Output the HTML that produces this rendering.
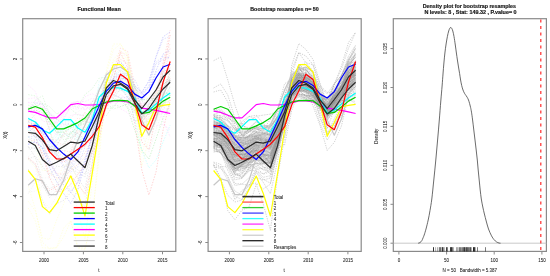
<!DOCTYPE html>
<html><head><meta charset="utf-8"><style>html,body{margin:0;padding:0;background:#fff;overflow:hidden}svg{display:block}</style></head>
<body><svg width="550" height="276" viewBox="0 0 550 276"><rect width="550" height="276" fill="#fff"/><g><polyline points="28.2,125.8 35.3,124.6 42.4,142.8 49.5,161.9 56.6,173.8 63.7,174.0 70.8,161.4 77.9,159.7 85.0,153.0 92.1,138.7 99.2,121.2 106.3,91.0 113.4,71.2 120.5,48.0 127.6,51.3 134.7,85.2 141.8,110.7 148.9,125.0 156.0,98.7 163.1,64.0 170.2,43.2" fill="none" stroke="#ff8080" stroke-width="0.6" stroke-dasharray="1.4,1.4" opacity="0.4"/><polyline points="28.2,132.0 35.3,126.9 42.4,131.4 49.5,139.2 56.6,140.1 63.7,135.3 70.8,126.0 77.9,118.0 85.0,121.2 92.1,123.2 99.2,113.4 106.3,96.3 113.4,97.2 120.5,80.4 127.6,84.4 134.7,91.2 141.8,105.3 148.9,113.7 156.0,108.2 163.1,84.0 170.2,79.3" fill="none" stroke="#ff8080" stroke-width="0.6" stroke-dasharray="1.4,1.4" opacity="0.4"/><polyline points="28.2,125.7 35.3,123.2 42.4,127.1 49.5,141.1 56.6,142.0 63.7,145.2 70.8,140.3 77.9,131.4 85.0,129.4 92.1,118.4 99.2,112.0 106.3,104.6 113.4,93.0 120.5,79.8 127.6,85.9 134.7,93.3 141.8,107.2 148.9,112.1 156.0,89.0 163.1,72.7 170.2,52.7" fill="none" stroke="#ff8080" stroke-width="0.6" stroke-dasharray="1.4,1.4" opacity="0.4"/><polyline points="28.2,107.9 35.3,108.0 42.4,107.9 49.5,129.9 56.6,151.2 63.7,150.7 70.8,151.9 77.9,127.6 85.0,111.9 92.1,120.9 99.2,106.7 106.3,72.3 113.4,69.0 120.5,59.3 127.6,63.6 134.7,101.1 141.8,106.0 148.9,99.6 156.0,94.6 163.1,66.3 170.2,48.2" fill="none" stroke="#ff8080" stroke-width="0.6" stroke-dasharray="1.4,1.4" opacity="0.4"/><polyline points="28.2,139.9 35.3,141.0 42.4,153.1 49.5,173.9 56.6,177.8 63.7,178.2 70.8,170.0 77.9,164.4 85.0,157.2 92.1,145.9 99.2,125.6 106.3,95.1 113.4,80.2 120.5,51.3 127.6,56.0 134.7,90.4 141.8,126.3 148.9,134.5 156.0,106.0 163.1,62.6 170.2,30.1" fill="none" stroke="#ff8080" stroke-width="0.6" stroke-dasharray="1.4,1.4" opacity="0.4"/><polyline points="28.2,121.6 35.3,124.7 42.4,128.0 49.5,137.5 56.6,151.6 63.7,157.3 70.8,152.1 77.9,142.5 85.0,139.7 92.1,133.6 99.2,126.6 106.3,102.1 113.4,86.3 120.5,77.3 127.6,79.6 134.7,101.7 141.8,127.3 148.9,124.6 156.0,118.3 163.1,95.7 170.2,70.0" fill="none" stroke="#ff8080" stroke-width="0.6" stroke-dasharray="1.4,1.4" opacity="0.4"/><polyline points="28.2,122.1 35.3,114.2 42.4,109.3 49.5,129.9 56.6,155.3 63.7,145.4 70.8,133.3 77.9,125.9 85.0,124.0 92.1,101.8 99.2,97.5 106.3,81.5 113.4,84.8 120.5,81.5 127.6,89.3 134.7,103.6 141.8,124.3 148.9,119.0 156.0,117.8 163.1,104.1 170.2,95.2" fill="none" stroke="#80e080" stroke-width="0.6" stroke-dasharray="1.4,1.4" opacity="0.4"/><polyline points="28.2,105.1 35.3,107.9 42.4,108.1 49.5,116.6 56.6,132.6 63.7,132.0 70.8,134.8 77.9,125.3 85.0,122.8 92.1,106.1 99.2,97.0 106.3,89.2 113.4,88.3 120.5,87.3 127.6,86.1 134.7,86.3 141.8,100.5 148.9,106.9 156.0,109.6 163.1,104.5 170.2,95.0" fill="none" stroke="#80e080" stroke-width="0.6" stroke-dasharray="1.4,1.4" opacity="0.4"/><polyline points="28.2,108.9 35.3,106.1 42.4,103.6 49.5,115.7 56.6,128.6 63.7,139.9 70.8,137.5 77.9,128.7 85.0,118.6 92.1,127.7 99.2,113.6 106.3,115.9 113.4,105.0 120.5,106.5 127.6,104.1 134.7,111.1 141.8,116.7 148.9,107.6 156.0,100.8 163.1,97.0 170.2,86.8" fill="none" stroke="#80e080" stroke-width="0.6" stroke-dasharray="1.4,1.4" opacity="0.4"/><polyline points="28.2,109.5 35.3,100.3 42.4,95.8 49.5,114.0 56.6,119.7 63.7,110.4 70.8,105.1 77.9,107.1 85.0,94.4 92.1,89.0 99.2,78.1 106.3,77.4 113.4,86.7 120.5,80.1 127.6,71.0 134.7,88.2 141.8,100.2 148.9,98.5 156.0,98.8 163.1,82.5 170.2,76.7" fill="none" stroke="#80e080" stroke-width="0.6" stroke-dasharray="1.4,1.4" opacity="0.4"/><polyline points="28.2,94.6 35.3,95.9 42.4,103.3 49.5,106.6 56.6,113.9 63.7,110.7 70.8,108.9 77.9,115.1 85.0,115.0 92.1,114.8 99.2,111.7 106.3,103.0 113.4,109.0 120.5,106.7 127.6,103.9 134.7,103.2 141.8,99.4 148.9,100.3 156.0,98.7 163.1,93.7 170.2,92.7" fill="none" stroke="#80e080" stroke-width="0.6" stroke-dasharray="1.4,1.4" opacity="0.4"/><polyline points="28.2,109.5 35.3,104.2 42.4,110.0 49.5,123.4 56.6,132.7 63.7,136.9 70.8,133.0 77.9,127.4 85.0,117.4 92.1,108.7 99.2,109.8 106.3,108.9 113.4,107.3 120.5,98.5 127.6,102.3 134.7,113.7 141.8,113.6 148.9,110.6 156.0,95.7 163.1,83.0 170.2,82.2" fill="none" stroke="#80e080" stroke-width="0.6" stroke-dasharray="1.4,1.4" opacity="0.4"/><polyline points="28.2,109.5 35.3,102.6 42.4,104.0 49.5,112.4 56.6,119.0 63.7,124.0 70.8,124.4 77.9,125.4 85.0,116.8 92.1,111.0 99.2,102.9 106.3,92.4 113.4,94.4 120.5,97.9 127.6,97.5 134.7,107.4 141.8,115.3 148.9,108.8 156.0,100.4 163.1,91.6 170.2,94.4" fill="none" stroke="#8080ff" stroke-width="0.6" stroke-dasharray="1.4,1.4" opacity="0.4"/><polyline points="28.2,136.6 35.3,136.1 42.4,143.0 49.5,159.5 56.6,173.6 63.7,180.5 70.8,191.2 77.9,182.6 85.0,164.9 92.1,139.0 99.2,112.3 106.3,92.7 113.4,80.3 120.5,75.5 127.6,75.5 134.7,88.0 141.8,94.0 148.9,85.5 156.0,57.2 163.1,39.2 170.2,36.4" fill="none" stroke="#8080ff" stroke-width="0.6" stroke-dasharray="1.4,1.4" opacity="0.4"/><polyline points="28.2,137.3 35.3,139.6 42.4,141.2 49.5,146.3 56.6,155.1 63.7,159.3 70.8,164.4 77.9,151.4 85.0,137.0 92.1,114.8 99.2,105.3 106.3,87.5 113.4,78.3 120.5,73.7 127.6,73.5 134.7,79.6 141.8,93.7 148.9,87.3 156.0,77.5 163.1,71.6 170.2,68.5" fill="none" stroke="#8080ff" stroke-width="0.6" stroke-dasharray="1.4,1.4" opacity="0.4"/><polyline points="28.2,122.2 35.3,125.0 42.4,133.0 49.5,141.6 56.6,153.3 63.7,165.2 70.8,168.7 77.9,159.4 85.0,140.8 92.1,123.8 99.2,109.7 106.3,99.4 113.4,85.3 120.5,89.6 127.6,90.2 134.7,99.7 141.8,96.7 148.9,86.6 156.0,63.8 163.1,59.5 170.2,56.9" fill="none" stroke="#8080ff" stroke-width="0.6" stroke-dasharray="1.4,1.4" opacity="0.4"/><polyline points="28.2,127.9 35.3,135.6 42.4,141.1 49.5,148.4 56.6,157.9 63.7,160.7 70.8,167.0 77.9,155.2 85.0,137.7 92.1,117.3 99.2,102.2 106.3,85.8 113.4,78.3 120.5,70.1 127.6,75.4 134.7,85.6 141.8,92.2 148.9,81.1 156.0,62.2 163.1,56.6 170.2,58.0" fill="none" stroke="#8080ff" stroke-width="0.6" stroke-dasharray="1.4,1.4" opacity="0.4"/><polyline points="28.2,126.3 35.3,132.5 42.4,131.0 49.5,146.0 56.6,156.0 63.7,167.4 70.8,172.1 77.9,166.8 85.0,146.9 92.1,132.0 99.2,112.0 106.3,102.8 113.4,92.3 120.5,78.5 127.6,79.4 134.7,88.6 141.8,95.0 148.9,92.5 156.0,72.6 163.1,65.8 170.2,66.2" fill="none" stroke="#8080ff" stroke-width="0.6" stroke-dasharray="1.4,1.4" opacity="0.4"/><polyline points="28.2,130.0 35.3,137.2 42.4,149.6 49.5,142.4 56.6,136.5 63.7,125.7 70.8,126.3 77.9,139.9 85.0,141.3 92.1,122.6 99.2,100.9 106.3,92.9 113.4,91.0 120.5,85.5 127.6,86.0 134.7,97.4 141.8,113.9 148.9,111.1 156.0,103.1 163.1,96.3 170.2,90.6" fill="none" stroke="#80ffff" stroke-width="0.6" stroke-dasharray="1.4,1.4" opacity="0.4"/><polyline points="28.2,127.6 35.3,138.0 42.4,147.7 49.5,148.7 56.6,139.9 63.7,133.6 70.8,137.2 77.9,140.7 85.0,137.6 92.1,126.2 99.2,102.3 106.3,96.1 113.4,87.8 120.5,86.2 127.6,97.4 134.7,105.0 141.8,122.8 148.9,111.9 156.0,105.0 163.1,94.3 170.2,92.9" fill="none" stroke="#80ffff" stroke-width="0.6" stroke-dasharray="1.4,1.4" opacity="0.4"/><polyline points="28.2,130.4 35.3,133.5 42.4,145.1 49.5,145.3 56.6,140.3 63.7,127.3 70.8,127.3 77.9,136.3 85.0,139.6 92.1,121.9 99.2,89.1 106.3,78.6 113.4,76.1 120.5,74.6 127.6,80.6 134.7,90.9 141.8,111.5 148.9,103.0 156.0,95.3 163.1,87.3 170.2,78.6" fill="none" stroke="#80ffff" stroke-width="0.6" stroke-dasharray="1.4,1.4" opacity="0.4"/><polyline points="28.2,118.0 35.3,122.8 42.4,133.8 49.5,126.5 56.6,121.6 63.7,118.9 70.8,119.7 77.9,127.4 85.0,127.9 92.1,115.3 99.2,92.5 106.3,80.8 113.4,79.0 120.5,79.8 127.6,88.8 134.7,99.5 141.8,111.9 148.9,114.3 156.0,110.9 163.1,104.1 170.2,95.5" fill="none" stroke="#80ffff" stroke-width="0.6" stroke-dasharray="1.4,1.4" opacity="0.4"/><polyline points="28.2,136.3 35.3,148.4 42.4,159.8 49.5,160.2 56.6,141.5 63.7,128.1 70.8,121.1 77.9,136.9 85.0,144.4 92.1,120.8 99.2,81.2 106.3,73.3 113.4,71.2 120.5,75.7 127.6,83.3 134.7,102.8 141.8,128.6 148.9,121.8 156.0,105.5 163.1,99.6 170.2,87.1" fill="none" stroke="#80ffff" stroke-width="0.6" stroke-dasharray="1.4,1.4" opacity="0.4"/><polyline points="28.2,118.1 35.3,122.5 42.4,134.6 49.5,142.7 56.6,132.8 63.7,127.8 70.8,132.6 77.9,141.3 85.0,136.0 92.1,115.3 99.2,86.2 106.3,79.1 113.4,74.7 120.5,69.7 127.6,74.9 134.7,86.4 141.8,110.4 148.9,110.2 156.0,100.0 163.1,86.2 170.2,79.9" fill="none" stroke="#80ffff" stroke-width="0.6" stroke-dasharray="1.4,1.4" opacity="0.4"/><polyline points="28.2,102.8 35.3,101.9 42.4,109.9 49.5,115.2 56.6,116.6 63.7,111.2 70.8,106.1 77.9,107.6 85.0,109.0 92.1,107.3 99.2,104.9 106.3,105.7 113.4,101.7 120.5,100.6 127.6,99.8 134.7,99.0 141.8,102.7 148.9,104.3 156.0,101.2 163.1,106.6 170.2,113.6" fill="none" stroke="#ff90ff" stroke-width="0.6" stroke-dasharray="1.4,1.4" opacity="0.4"/><polyline points="28.2,101.9 35.3,108.1 42.4,120.9 49.5,122.9 56.6,120.7 63.7,112.8 70.8,103.3 77.9,101.3 85.0,110.7 92.1,101.1 99.2,99.6 106.3,103.3 113.4,100.4 120.5,94.5 127.6,99.6 134.7,100.1 141.8,119.3 148.9,117.7 156.0,126.1 163.1,124.5 170.2,129.8" fill="none" stroke="#ff90ff" stroke-width="0.6" stroke-dasharray="1.4,1.4" opacity="0.4"/><polyline points="28.2,107.9 35.3,111.7 42.4,106.5 49.5,113.2 56.6,124.2 63.7,114.2 70.8,102.8 77.9,101.3 85.0,105.7 92.1,111.0 99.2,109.0 106.3,105.2 113.4,88.6 120.5,80.3 127.6,91.6 134.7,97.4 141.8,104.3 148.9,102.4 156.0,96.0 163.1,120.7 170.2,137.0" fill="none" stroke="#ff90ff" stroke-width="0.6" stroke-dasharray="1.4,1.4" opacity="0.4"/><polyline points="28.2,85.1 35.3,91.5 42.4,111.5 49.5,124.7 56.6,122.7 63.7,119.8 70.8,105.7 77.9,101.3 85.0,101.6 92.1,98.3 99.2,100.7 106.3,91.5 113.4,70.2 120.5,78.5 127.6,88.7 134.7,93.0 141.8,105.7 148.9,105.2 156.0,105.1 163.1,106.9 170.2,111.0" fill="none" stroke="#ff90ff" stroke-width="0.6" stroke-dasharray="1.4,1.4" opacity="0.4"/><polyline points="28.2,98.8 35.3,97.8 42.4,104.7 49.5,118.8 56.6,129.1 63.7,124.7 70.8,115.4 77.9,114.1 85.0,116.7 92.1,118.4 99.2,106.7 106.3,97.1 113.4,91.1 120.5,86.0 127.6,97.8 134.7,100.6 141.8,105.4 148.9,109.1 156.0,105.3 163.1,109.4 170.2,116.6" fill="none" stroke="#ff90ff" stroke-width="0.6" stroke-dasharray="1.4,1.4" opacity="0.4"/><polyline points="28.2,109.8 35.3,118.8 42.4,133.8 49.5,127.4 56.6,135.0 63.7,117.0 70.8,107.5 77.9,109.5 85.0,96.8 92.1,93.6 99.2,97.3 106.3,101.2 113.4,101.3 120.5,108.7 127.6,112.7 134.7,122.3 141.8,116.3 148.9,111.7 156.0,114.2 163.1,113.5 170.2,108.2" fill="none" stroke="#ff90ff" stroke-width="0.6" stroke-dasharray="1.4,1.4" opacity="0.4"/><polyline points="28.2,171.3 35.3,177.7 42.4,205.2 49.5,212.8 56.6,202.4 63.7,185.7 70.8,178.0 77.9,196.3 85.0,210.7 92.1,177.0 99.2,132.1 106.3,89.8 113.4,73.0 120.5,66.6 127.6,74.4 134.7,104.0 141.8,131.0 148.9,119.0 156.0,103.7 163.1,104.4 170.2,108.4" fill="none" stroke="#ffff80" stroke-width="0.6" stroke-dasharray="1.4,1.4" opacity="0.4"/><polyline points="28.2,186.1 35.3,208.9 42.4,242.3 49.5,248.7 56.6,247.7 63.7,227.9 70.8,220.8 77.9,248.1 85.0,250.0 92.1,216.2 99.2,157.9 106.3,84.4 113.4,59.5 120.5,51.5 127.6,59.4 134.7,108.9 141.8,166.1 148.9,138.6 156.0,108.9 163.1,104.2 170.2,102.4" fill="none" stroke="#ffff80" stroke-width="0.6" stroke-dasharray="1.4,1.4" opacity="0.4"/><polyline points="28.2,159.5 35.3,167.2 42.4,199.9 49.5,208.2 56.6,196.0 63.7,181.8 70.8,173.4 77.9,189.4 85.0,214.6 92.1,172.5 99.2,130.1 106.3,82.5 113.4,61.4 120.5,56.7 127.6,60.2 134.7,89.0 141.8,118.8 148.9,107.4 156.0,92.2 163.1,93.0 170.2,95.7" fill="none" stroke="#ffff80" stroke-width="0.6" stroke-dasharray="1.4,1.4" opacity="0.4"/><polyline points="28.2,201.3 35.3,210.9 42.4,237.9 49.5,239.5 56.6,220.0 63.7,203.8 70.8,183.8 77.9,210.4 85.0,239.0 92.1,184.3 99.2,130.5 106.3,70.5 113.4,44.0 120.5,44.0 127.6,56.2 134.7,95.9 141.8,136.8 148.9,114.8 156.0,99.2 163.1,104.9 170.2,99.9" fill="none" stroke="#ffff80" stroke-width="0.6" stroke-dasharray="1.4,1.4" opacity="0.4"/><polyline points="28.2,136.4 35.3,144.2 42.4,170.5 49.5,170.3 56.6,180.2 63.7,165.1 70.8,164.9 77.9,179.7 85.0,196.6 92.1,169.3 99.2,141.5 106.3,104.6 113.4,89.2 120.5,87.9 127.6,86.4 134.7,102.4 141.8,121.8 148.9,112.3 156.0,106.3 163.1,101.3 170.2,97.6" fill="none" stroke="#ffff80" stroke-width="0.6" stroke-dasharray="1.4,1.4" opacity="0.4"/><polyline points="28.2,208.0 35.3,220.9 42.4,247.8 49.5,248.1 56.6,247.7 63.7,236.7 70.8,221.1 77.9,247.2 85.0,248.3 92.1,222.5 99.2,146.5 106.3,73.9 113.4,49.9 120.5,44.0 127.6,54.5 134.7,100.9 141.8,153.5 148.9,130.3 156.0,102.7 163.1,102.9 170.2,99.3" fill="none" stroke="#ffff80" stroke-width="0.6" stroke-dasharray="1.4,1.4" opacity="0.4"/><polyline points="28.2,149.0 35.3,148.0 42.4,149.5 49.5,158.7 56.6,160.9 63.7,148.8 70.8,141.1 77.9,128.7 85.0,119.7 92.1,110.0 99.2,103.2 106.3,91.4 113.4,94.4 120.5,90.4 127.6,93.4 134.7,111.4 141.8,116.2 148.9,128.4 156.0,123.3 163.1,102.8 170.2,92.7" fill="none" stroke="#d8d8d8" stroke-width="0.6" stroke-dasharray="1.4,1.4" opacity="0.4"/><polyline points="28.2,180.4 35.3,174.3 42.4,177.7 49.5,178.0 56.6,181.0 63.7,170.6 70.8,148.4 77.9,144.0 85.0,131.4 92.1,122.0 99.2,112.6 106.3,101.0 113.4,101.0 120.5,99.4 127.6,91.8 134.7,101.1 141.8,111.1 148.9,132.0 156.0,121.5 163.1,103.4 170.2,89.2" fill="none" stroke="#d8d8d8" stroke-width="0.6" stroke-dasharray="1.4,1.4" opacity="0.4"/><polyline points="28.2,193.8 35.3,181.9 42.4,180.7 49.5,194.3 56.6,194.9 63.7,174.8 70.8,158.2 77.9,145.1 85.0,134.8 92.1,118.5 99.2,106.3 106.3,91.4 113.4,87.2 120.5,78.8 127.6,82.5 134.7,111.7 141.8,133.1 148.9,151.7 156.0,129.9 163.1,108.5 170.2,85.9" fill="none" stroke="#d8d8d8" stroke-width="0.6" stroke-dasharray="1.4,1.4" opacity="0.4"/><polyline points="28.2,156.7 35.3,150.3 42.4,151.9 49.5,160.7 56.6,165.6 63.7,153.7 70.8,138.1 77.9,129.5 85.0,122.4 92.1,111.9 99.2,98.7 106.3,86.3 113.4,80.3 120.5,78.8 127.6,78.3 134.7,91.9 141.8,107.0 148.9,122.9 156.0,108.7 163.1,90.8 170.2,86.1" fill="none" stroke="#d8d8d8" stroke-width="0.6" stroke-dasharray="1.4,1.4" opacity="0.4"/><polyline points="28.2,142.0 35.3,139.9 42.4,138.4 49.5,139.1 56.6,145.5 63.7,135.8 70.8,117.5 77.9,111.7 85.0,106.7 92.1,102.5 99.2,88.1 106.3,87.1 113.4,91.8 120.5,90.8 127.6,89.2 134.7,96.4 141.8,110.8 148.9,129.6 156.0,115.9 163.1,103.9 170.2,94.8" fill="none" stroke="#d8d8d8" stroke-width="0.6" stroke-dasharray="1.4,1.4" opacity="0.4"/><polyline points="28.2,192.0 35.3,191.0 42.4,186.2 49.5,193.9 56.6,187.1 63.7,174.9 70.8,153.4 77.9,137.6 85.0,117.7 92.1,109.1 99.2,89.8 106.3,80.7 113.4,69.0 120.5,67.5 127.6,59.9 134.7,87.9 141.8,106.1 148.9,116.6 156.0,104.4 163.1,82.3 170.2,77.3" fill="none" stroke="#d8d8d8" stroke-width="0.6" stroke-dasharray="1.4,1.4" opacity="0.4"/><polyline points="28.2,159.0 35.3,156.2 42.4,166.2 49.5,175.5 56.6,166.4 63.7,166.8 70.8,162.4 77.9,170.2 85.0,173.9 92.1,153.8 99.2,118.5 106.3,104.3 113.4,87.9 120.5,90.2 127.6,90.0 134.7,110.8 141.8,118.9 148.9,113.4 156.0,97.1 163.1,84.9 170.2,78.6" fill="none" stroke="#a0a0a0" stroke-width="0.6" stroke-dasharray="1.4,1.4" opacity="0.4"/><polyline points="28.2,169.0 35.3,179.6 42.4,200.7 49.5,214.3 56.6,203.6 63.7,200.4 70.8,192.6 77.9,200.5 85.0,206.4 92.1,164.8 99.2,112.5 106.3,79.8 113.4,67.8 120.5,60.7 127.6,73.1 134.7,96.8 141.8,118.7 148.9,111.1 156.0,90.9 163.1,73.7 170.2,64.0" fill="none" stroke="#a0a0a0" stroke-width="0.6" stroke-dasharray="1.4,1.4" opacity="0.4"/><polyline points="28.2,123.7 35.3,131.6 42.4,140.3 49.5,147.1 56.6,145.8 63.7,132.8 70.8,138.1 77.9,133.0 85.0,140.2 92.1,130.1 99.2,109.1 106.3,96.3 113.4,98.4 120.5,88.5 127.6,97.4 134.7,107.3 141.8,111.7 148.9,114.5 156.0,110.2 163.1,103.1 170.2,101.4" fill="none" stroke="#a0a0a0" stroke-width="0.6" stroke-dasharray="1.4,1.4" opacity="0.4"/><polyline points="28.2,147.3 35.3,148.3 42.4,153.7 49.5,153.4 56.6,148.9 63.7,143.5 70.8,131.2 77.9,133.3 85.0,131.0 92.1,124.1 99.2,112.7 106.3,100.8 113.4,95.2 120.5,97.7 127.6,106.3 134.7,121.0 141.8,118.8 148.9,104.7 156.0,97.5 163.1,85.1 170.2,76.6" fill="none" stroke="#a0a0a0" stroke-width="0.6" stroke-dasharray="1.4,1.4" opacity="0.4"/><polyline points="28.2,158.7 35.3,165.1 42.4,184.8 49.5,197.6 56.6,190.1 63.7,182.2 70.8,166.1 77.9,178.0 85.0,188.8 92.1,152.4 99.2,108.7 106.3,78.8 113.4,65.3 120.5,71.8 127.6,77.4 134.7,106.7 141.8,118.4 148.9,104.3 156.0,89.6 163.1,74.8 170.2,67.8" fill="none" stroke="#a0a0a0" stroke-width="0.6" stroke-dasharray="1.4,1.4" opacity="0.4"/><polyline points="28.2,146.3 35.3,157.2 42.4,179.8 49.5,188.8 56.6,184.7 63.7,174.3 70.8,167.7 77.9,172.9 85.0,176.9 92.1,149.0 99.2,112.6 106.3,89.3 113.4,84.8 120.5,87.7 127.6,91.2 134.7,104.3 141.8,117.9 148.9,110.0 156.0,101.4 163.1,89.7 170.2,72.7" fill="none" stroke="#a0a0a0" stroke-width="0.6" stroke-dasharray="1.4,1.4" opacity="0.4"/><polyline points="28.2,144.6 35.3,141.9 42.4,148.2 49.5,167.3 56.6,181.7 63.7,193.5 70.8,203.3 77.9,189.6 85.0,162.8 92.1,134.9 99.2,107.0 106.3,80.7 113.4,65.9 120.5,62.5 127.6,69.9 134.7,85.5 141.8,92.6 148.9,81.0 156.0,56.6 163.1,36.8 170.2,31.9" fill="none" stroke="#8080ff" stroke-width="0.6" stroke-dasharray="1.4,1.4" opacity="0.6"/><polyline points="28.2,132.4 35.3,136.3 42.4,154.7 49.5,177.7 56.6,191.5 63.7,191.2 70.8,183.9 77.9,174.3 85.0,164.9 92.1,152.3 99.2,138.9 106.3,103.7 113.4,78.5 120.5,52.7 127.6,67.5 134.7,104.9 141.8,141.8 148.9,149.7 156.0,116.5 163.1,70.4 170.2,35.0" fill="none" stroke="#ff8080" stroke-width="0.6" stroke-dasharray="1.4,1.4" opacity="0.6"/><polyline points="28.2,120.0 35.3,122.0 42.4,135.0 49.5,150.0 56.6,160.0 63.7,162.0 70.8,158.0 77.9,150.0 85.0,146.0 92.1,138.0 99.2,128.0 106.3,108.0 113.4,92.0 120.5,80.0 127.6,86.0 134.7,123.0 141.8,170.0 148.9,195.0 156.0,172.0 163.1,130.0 170.2,100.0" fill="none" stroke="#ff8080" stroke-width="0.6" stroke-dasharray="1.4,1.4" opacity="0.6"/><polyline points="28.2,112.0 35.3,110.0 42.4,113.0 49.5,122.0 56.6,132.0 63.7,132.0 70.8,128.0 77.9,125.0 85.0,120.0 92.1,112.0 99.2,106.0 106.3,102.0 113.4,100.0 120.5,100.0 127.6,108.0 134.7,130.0 141.8,150.0 148.9,159.0 156.0,139.0 163.1,118.0 170.2,104.0" fill="none" stroke="#80e080" stroke-width="0.6" stroke-dasharray="1.4,1.4" opacity="0.6"/><polyline points="28.2,118.0 35.3,122.0 42.4,131.0 49.5,134.0 56.6,128.0 63.7,121.0 70.8,121.0 77.9,130.0 85.0,134.0 92.1,121.0 99.2,98.0 106.3,90.0 113.4,87.0 120.5,88.0 127.6,95.0 134.7,120.0 141.8,150.0 148.9,168.0 156.0,160.0 163.1,142.0 170.2,125.0" fill="none" stroke="#80ffff" stroke-width="0.6" stroke-dasharray="1.4,1.4" opacity="0.6"/><polyline points="28.2,144.0 35.3,141.7 42.4,147.0 49.5,162.8 56.6,174.8 63.7,184.8 70.8,192.8 77.9,181.5 85.0,159.1 92.1,135.8 99.2,112.6 106.3,90.7 113.4,78.4 120.5,75.5 127.6,81.7 134.7,94.8 141.8,100.6 148.9,91.0 156.0,70.6 163.1,54.1 170.2,50.0" fill="none" stroke="#8080ff" stroke-width="0.6" stroke-dasharray="1.4,1.4" opacity="0.6"/><polyline points="28.2,157.9 35.3,163.6 42.4,182.6 49.5,190.7 56.6,186.4 63.7,181.2 70.8,175.4 77.9,184.7 85.0,193.7 92.1,164.4 99.2,123.9 106.3,95.0 113.4,83.3 120.5,81.1 127.6,87.7 134.7,106.4 141.8,121.2 148.9,113.8 156.0,99.6 163.1,87.5 170.2,78.4" fill="none" stroke="#ff8080" stroke-width="0.6" stroke-dasharray="1.4,1.4" opacity="0.6"/><polyline points="28.2,185.3 35.3,178.7 42.4,180.9 49.5,194.6 56.6,194.6 63.7,180.0 70.8,158.0 77.9,140.0 85.0,125.0 92.1,110.0 99.2,90.0 106.3,75.0 113.4,69.0 120.5,67.0 127.6,72.0 134.7,95.0 141.8,120.0 148.9,135.2 156.0,119.0 163.1,95.0 170.2,80.0" fill="none" stroke="#c6c6c6" stroke-width="1.2" stroke-linejoin="round"/><polyline points="28.2,170.5 35.3,179.3 42.4,206.6 49.5,212.6 56.6,203.4 63.7,189.5 70.8,176.0 77.9,193.5 85.0,216.0 92.1,174.0 99.2,130.0 106.3,83.0 113.4,64.6 120.5,64.6 127.6,72.0 134.7,103.0 141.8,136.3 148.9,122.4 156.0,107.0 163.1,105.4 170.2,104.3" fill="none" stroke="#ffff00" stroke-width="1.2" stroke-linejoin="round"/><polyline points="28.2,111.1 35.3,112.4 42.4,115.2 49.5,117.9 56.6,117.9 63.7,111.4 70.8,104.6 77.9,103.5 85.0,105.0 92.1,105.0 99.2,104.3 106.3,103.0 113.4,101.0 120.5,101.0 127.6,102.0 134.7,105.0 141.8,108.1 148.9,109.2 156.0,110.3 163.1,111.9 170.2,113.5" fill="none" stroke="#ff00ff" stroke-width="1.2" stroke-linejoin="round"/><polyline points="28.2,118.5 35.3,122.0 42.4,130.0 49.5,133.3 56.6,126.7 63.7,119.6 70.8,119.6 77.9,128.0 85.0,132.2 92.1,120.0 99.2,97.0 106.3,90.3 113.4,87.5 120.5,88.1 127.6,91.4 134.7,98.0 141.8,113.0 148.9,110.3 156.0,104.0 163.1,98.0 170.2,93.0" fill="none" stroke="#00ffff" stroke-width="1.2" stroke-linejoin="round"/><polyline points="28.2,109.2 35.3,106.5 42.4,109.2 49.5,119.0 56.6,128.9 63.7,128.9 70.8,125.9 77.9,122.6 85.0,118.0 92.1,109.0 99.2,105.5 106.3,102.0 113.4,100.6 120.5,100.3 127.6,100.8 134.7,105.9 141.8,113.5 148.9,112.4 156.0,107.0 163.1,101.1 170.2,97.3" fill="none" stroke="#00cd00" stroke-width="1.2" stroke-linejoin="round"/><polyline points="28.2,126.9 35.3,125.4 42.4,128.9 49.5,139.5 56.6,147.5 63.7,154.1 70.8,159.5 77.9,151.9 85.0,137.0 92.1,121.5 99.2,106.0 106.3,91.4 113.4,83.2 120.5,81.3 127.6,85.4 134.7,94.1 141.8,98.0 148.9,91.6 156.0,78.0 163.1,67.0 170.2,64.3" fill="none" stroke="#0000ff" stroke-width="1.2" stroke-linejoin="round"/><polyline points="28.2,125.4 35.3,127.2 42.4,137.6 49.5,151.9 56.6,159.0 63.7,159.0 70.8,154.1 77.9,149.2 85.0,144.2 92.1,136.5 99.2,126.7 106.3,105.0 113.4,91.0 120.5,74.2 127.6,79.6 134.7,102.0 141.8,124.8 148.9,129.7 156.0,112.0 163.1,82.0 170.2,61.5" fill="none" stroke="#ff0000" stroke-width="1.2" stroke-linejoin="round"/><polyline points="28.2,141.2 35.3,145.4 42.4,159.5 49.5,165.5 56.6,162.3 63.7,158.4 70.8,154.1 77.9,161.0 85.0,167.7 92.1,146.0 99.2,116.0 106.3,94.6 113.4,85.9 120.5,84.3 127.6,89.2 134.7,103.0 141.8,114.0 148.9,108.5 156.0,98.0 163.1,89.0 170.2,82.3" fill="none" stroke="#2a2a2a" stroke-width="1.2" stroke-linejoin="round"/><polyline points="28.2,132.5 35.3,133.3 42.4,139.8 49.5,149.7 56.6,150.8 63.7,146.5 70.8,142.1 77.9,143.1 85.0,141.0 92.1,127.0 99.2,112.0 106.3,88.0 113.4,80.5 120.5,83.2 127.6,88.1 134.7,100.0 141.8,108.5 148.9,99.5 156.0,90.0 163.1,77.0 170.2,70.3" fill="none" stroke="#2a2a2a" stroke-width="1.2" stroke-linejoin="round"/></g><rect x="22.7" y="18.7" width="153.1" height="232.7" fill="none" stroke="#8a8a8a" stroke-width="1.2"/><text x="99.1" y="11.3" text-anchor="middle" style="font-family:'Liberation Sans',Arial,sans-serif;font-size:5.5px;font-weight:bold" fill="#1a1a1a" stroke="#1a1a1a" stroke-width="0.18">Functional Mean</text><line x1="44.0" y1="251.4" x2="44.0" y2="254.3" stroke="#8a8a8a" stroke-width="1"/><text x="44.0" y="261.6" text-anchor="middle" style="font-family:'Liberation Sans',Arial,sans-serif;font-size:4.5px" fill="#1a1a1a" stroke="#1a1a1a" stroke-width="0.05">2000</text><line x1="83.4" y1="251.4" x2="83.4" y2="254.3" stroke="#8a8a8a" stroke-width="1"/><text x="83.4" y="261.6" text-anchor="middle" style="font-family:'Liberation Sans',Arial,sans-serif;font-size:4.5px" fill="#1a1a1a" stroke="#1a1a1a" stroke-width="0.05">2005</text><line x1="122.8" y1="251.4" x2="122.8" y2="254.3" stroke="#8a8a8a" stroke-width="1"/><text x="122.8" y="261.6" text-anchor="middle" style="font-family:'Liberation Sans',Arial,sans-serif;font-size:4.5px" fill="#1a1a1a" stroke="#1a1a1a" stroke-width="0.05">2010</text><line x1="162.5" y1="251.4" x2="162.5" y2="254.3" stroke="#8a8a8a" stroke-width="1"/><text x="162.5" y="261.6" text-anchor="middle" style="font-family:'Liberation Sans',Arial,sans-serif;font-size:4.5px" fill="#1a1a1a" stroke="#1a1a1a" stroke-width="0.05">2015</text><text x="98.8" y="272.2" text-anchor="middle" style="font-family:'Liberation Sans',Arial,sans-serif;font-size:4.5px" fill="#1a1a1a" stroke="#1a1a1a" stroke-width="0.05">t</text><line x1="19.9" y1="58.9" x2="22.7" y2="58.9" stroke="#8a8a8a" stroke-width="1"/><text transform="translate(16.7,58.9) rotate(-90)" text-anchor="middle" style="font-family:'Liberation Sans',Arial,sans-serif;font-size:4.5px" fill="#1a1a1a" stroke="#1a1a1a" stroke-width="0.05">2</text><line x1="19.9" y1="104.8" x2="22.7" y2="104.8" stroke="#8a8a8a" stroke-width="1"/><text transform="translate(16.7,104.8) rotate(-90)" text-anchor="middle" style="font-family:'Liberation Sans',Arial,sans-serif;font-size:4.5px" fill="#1a1a1a" stroke="#1a1a1a" stroke-width="0.05">0</text><line x1="19.9" y1="150.7" x2="22.7" y2="150.7" stroke="#8a8a8a" stroke-width="1"/><text transform="translate(16.7,150.7) rotate(-90)" text-anchor="middle" style="font-family:'Liberation Sans',Arial,sans-serif;font-size:4.5px" fill="#1a1a1a" stroke="#1a1a1a" stroke-width="0.05">-2</text><line x1="19.9" y1="196.6" x2="22.7" y2="196.6" stroke="#8a8a8a" stroke-width="1"/><text transform="translate(16.7,196.6) rotate(-90)" text-anchor="middle" style="font-family:'Liberation Sans',Arial,sans-serif;font-size:4.5px" fill="#1a1a1a" stroke="#1a1a1a" stroke-width="0.05">-4</text><line x1="19.9" y1="242.5" x2="22.7" y2="242.5" stroke="#8a8a8a" stroke-width="1"/><text transform="translate(16.7,242.5) rotate(-90)" text-anchor="middle" style="font-family:'Liberation Sans',Arial,sans-serif;font-size:4.5px" fill="#1a1a1a" stroke="#1a1a1a" stroke-width="0.05">-6</text><text transform="translate(6.5,135.2) rotate(-90)" text-anchor="middle" style="font-family:'Liberation Sans',Arial,sans-serif;font-size:4.5px" fill="#1a1a1a" stroke="#1a1a1a" stroke-width="0.05">X(t)</text><polygon points="213.6,120.9 220.7,122.3 227.8,128.9 234.9,136.3 242.0,137.6 249.1,135.6 256.2,131.7 263.3,133.1 270.4,133.2 277.5,121.5 284.6,107.2 291.7,81.4 298.8,72.7 305.9,76.0 313.0,82.4 320.1,96.6 327.2,104.7 334.3,94.0 341.4,84.5 348.5,68.0 355.6,60.9 355.6,83.7 348.5,89.4 341.4,99.0 334.3,107.7 327.2,115.5 320.1,105.2 313.0,96.3 305.9,92.8 298.8,90.7 291.7,96.4 284.6,119.0 277.5,141.7 270.4,164.1 263.3,162.5 256.2,159.3 249.1,163.4 242.0,167.2 234.9,169.0 227.8,159.0 220.7,146.4 213.6,145.1" fill="#c4c4c4" opacity="0.55" stroke="none"/><polyline points="213.6,134.1 220.7,135.5 227.8,141.1 234.9,150.5 242.0,151.8 249.1,147.3 256.2,141.7 263.3,140.7 270.4,137.4 277.5,126.1 284.6,112.0 291.7,89.7 298.8,81.6 305.9,79.4 313.0,85.0 320.1,99.8 327.2,110.3 334.3,107.0 341.4,98.4 348.5,82.1 355.6,74.4" fill="none" stroke="#8c8c8c" stroke-width="0.7" stroke-dasharray="2,0.7" opacity="0.42"/><polyline points="213.6,116.0 220.7,117.7 227.8,121.1 234.9,129.0 242.0,131.5 249.1,134.5 256.2,135.3 263.3,136.4 270.4,133.0 277.5,125.1 284.6,114.2 291.7,100.0 298.8,94.5 305.9,94.6 313.0,98.0 320.1,106.8 327.2,109.6 334.3,104.5 341.4,97.0 348.5,88.8 355.6,83.1" fill="none" stroke="#8c8c8c" stroke-width="0.7" stroke-dasharray="2,0.7" opacity="0.42"/><polyline points="213.6,128.2 220.7,125.7 227.8,126.1 234.9,130.0 242.0,134.0 249.1,131.2 256.2,127.7 263.3,125.7 270.4,125.8 277.5,117.8 284.6,106.2 291.7,94.8 298.8,95.5 305.9,98.8 313.0,102.4 320.1,104.2 327.2,103.2 334.3,101.3 341.4,95.5 348.5,90.2 355.6,89.8" fill="none" stroke="#8c8c8c" stroke-width="0.7" stroke-dasharray="2,0.7" opacity="0.42"/><polyline points="213.6,143.6 220.7,149.2 227.8,158.5 234.9,170.6 242.0,164.5 249.1,154.6 256.2,150.2 263.3,161.2 270.4,164.2 277.5,145.6 284.6,117.6 291.7,83.1 298.8,75.3 305.9,78.9 313.0,83.2 320.1,98.5 327.2,107.7 334.3,96.0 341.4,86.2 348.5,79.0 355.6,75.8" fill="none" stroke="#8c8c8c" stroke-width="0.7" stroke-dasharray="2,0.7" opacity="0.42"/><polyline points="213.6,126.6 220.7,131.6 227.8,134.9 234.9,140.1 242.0,140.3 249.1,135.9 256.2,129.6 263.3,130.3 270.4,126.9 277.5,117.0 284.6,102.8 291.7,92.6 298.8,86.6 305.9,85.8 313.0,90.4 320.1,96.8 327.2,108.0 334.3,107.8 341.4,101.5 348.5,92.0 355.6,86.3" fill="none" stroke="#8c8c8c" stroke-width="0.7" stroke-dasharray="2,0.7" opacity="0.42"/><polyline points="213.6,135.0 220.7,136.2 227.8,142.8 234.9,155.6 242.0,153.9 249.1,148.3 256.2,143.5 263.3,145.2 270.4,148.4 277.5,130.9 284.6,111.1 291.7,89.3 298.8,81.8 305.9,86.4 313.0,91.7 320.1,102.3 327.2,116.6 334.3,110.4 341.4,97.9 348.5,90.5 355.6,80.9" fill="none" stroke="#8c8c8c" stroke-width="0.7" stroke-dasharray="2,0.7" opacity="0.42"/><polyline points="213.6,133.3 220.7,135.2 227.8,145.9 234.9,156.8 242.0,162.0 249.1,157.3 256.2,155.9 263.3,159.7 270.4,155.9 277.5,137.7 284.6,118.0 291.7,97.2 298.8,90.8 305.9,86.2 313.0,88.9 320.1,100.0 327.2,107.4 334.3,99.1 341.4,85.8 348.5,72.9 355.6,72.7" fill="none" stroke="#8c8c8c" stroke-width="0.7" stroke-dasharray="2,0.7" opacity="0.42"/><polyline points="213.6,126.6 220.7,128.8 227.8,139.6 234.9,149.8 242.0,154.8 249.1,153.9 256.2,148.5 263.3,147.7 270.4,148.3 277.5,130.6 284.6,117.1 291.7,89.5 298.8,79.8 305.9,80.3 313.0,88.3 320.1,98.6 327.2,110.1 334.3,101.1 341.4,88.7 348.5,74.2 355.6,64.7" fill="none" stroke="#8c8c8c" stroke-width="0.7" stroke-dasharray="2,0.7" opacity="0.42"/><polyline points="213.6,127.0 220.7,132.4 227.8,139.5 234.9,152.0 242.0,155.3 249.1,153.5 256.2,149.9 263.3,151.3 270.4,142.9 277.5,126.9 284.6,111.4 291.7,90.4 298.8,81.5 305.9,79.0 313.0,85.7 320.1,100.6 327.2,110.1 334.3,102.5 341.4,85.1 348.5,65.9 355.6,56.5" fill="none" stroke="#8c8c8c" stroke-width="0.7" stroke-dasharray="2,0.7" opacity="0.42"/><polyline points="213.6,109.7 220.7,112.4 227.8,117.3 234.9,123.3 242.0,125.9 249.1,127.9 256.2,128.1 263.3,133.0 270.4,133.5 277.5,126.1 284.6,115.7 291.7,103.7 298.8,97.4 305.9,99.8 313.0,101.3 320.1,105.3 327.2,105.5 334.3,97.5 341.4,91.5 348.5,84.3 355.6,80.6" fill="none" stroke="#8c8c8c" stroke-width="0.7" stroke-dasharray="2,0.7" opacity="0.42"/><polyline points="213.6,134.7 220.7,135.7 227.8,145.0 234.9,155.5 242.0,158.0 249.1,156.4 256.2,150.0 263.3,144.2 270.4,139.1 277.5,126.4 284.6,112.5 291.7,90.3 298.8,79.4 305.9,77.4 313.0,82.3 320.1,95.9 327.2,104.8 334.3,102.6 341.4,94.8 348.5,81.8 355.6,75.6" fill="none" stroke="#8c8c8c" stroke-width="0.7" stroke-dasharray="2,0.7" opacity="0.42"/><polyline points="213.6,110.4 220.7,110.7 227.8,114.8 234.9,126.8 242.0,135.3 249.1,138.9 256.2,135.3 263.3,133.9 270.4,130.2 277.5,122.0 284.6,110.1 291.7,95.6 298.8,90.2 305.9,96.4 313.0,100.4 320.1,106.7 327.2,106.9 334.3,96.7 341.4,87.7 348.5,82.5 355.6,80.8" fill="none" stroke="#8c8c8c" stroke-width="0.7" stroke-dasharray="2,0.7" opacity="0.42"/><polyline points="213.6,114.4 220.7,116.2 227.8,125.7 234.9,128.5 242.0,133.2 249.1,129.7 256.2,128.5 263.3,131.7 270.4,136.0 277.5,124.8 284.6,111.1 291.7,100.4 298.8,96.7 305.9,97.1 313.0,100.1 320.1,104.1 327.2,108.3 334.3,106.5 341.4,101.0 348.5,100.0 355.6,101.5" fill="none" stroke="#8c8c8c" stroke-width="0.7" stroke-dasharray="2,0.7" opacity="0.42"/><polyline points="213.6,139.0 220.7,136.5 227.8,138.6 234.9,149.6 242.0,144.7 249.1,144.6 256.2,139.8 263.3,132.2 270.4,130.2 277.5,115.9 284.6,98.3 291.7,81.5 298.8,72.6 305.9,82.1 313.0,88.5 320.1,97.8 327.2,98.7 334.3,92.7 341.4,85.4 348.5,78.6 355.6,71.9" fill="none" stroke="#8c8c8c" stroke-width="0.7" stroke-dasharray="2,0.7" opacity="0.42"/><polyline points="213.6,138.8 220.7,137.9 227.8,147.8 234.9,159.5 242.0,157.5 249.1,156.2 256.2,152.4 263.3,149.5 270.4,144.6 277.5,127.6 284.6,105.8 291.7,87.7 298.8,75.2 305.9,75.4 313.0,79.3 320.1,94.8 327.2,106.8 334.3,101.0 341.4,90.7 348.5,79.1 355.6,72.0" fill="none" stroke="#8c8c8c" stroke-width="0.7" stroke-dasharray="2,0.7" opacity="0.42"/><polyline points="213.6,140.9 220.7,142.3 227.8,152.2 234.9,155.5 242.0,154.2 249.1,152.5 256.2,147.8 263.3,153.1 270.4,158.5 277.5,136.3 284.6,110.5 291.7,81.4 298.8,69.3 305.9,68.9 313.0,74.2 320.1,88.7 327.2,104.1 334.3,95.4 341.4,87.0 348.5,73.3 355.6,63.1" fill="none" stroke="#8c8c8c" stroke-width="0.7" stroke-dasharray="2,0.7" opacity="0.42"/><polyline points="213.6,124.9 220.7,123.0 227.8,128.8 234.9,136.0 242.0,138.0 249.1,136.5 256.2,132.3 263.3,133.4 270.4,134.5 277.5,119.9 284.6,112.1 291.7,96.4 298.8,89.9 305.9,91.4 313.0,96.6 320.1,105.9 327.2,111.7 334.3,103.0 341.4,92.6 348.5,82.9 355.6,78.0" fill="none" stroke="#8c8c8c" stroke-width="0.7" stroke-dasharray="2,0.7" opacity="0.42"/><polyline points="213.6,145.6 220.7,147.4 227.8,158.7 234.9,171.9 242.0,177.5 249.1,169.1 256.2,163.3 263.3,164.7 270.4,160.0 277.5,138.4 284.6,118.8 291.7,79.1 298.8,72.7 305.9,75.4 313.0,82.3 320.1,102.9 327.2,118.0 334.3,104.1 341.4,90.1 348.5,66.5 355.6,54.7" fill="none" stroke="#8c8c8c" stroke-width="0.7" stroke-dasharray="2,0.7" opacity="0.42"/><polyline points="213.6,132.9 220.7,133.9 227.8,138.9 234.9,145.5 242.0,145.9 249.1,143.0 256.2,136.7 263.3,134.6 270.4,135.2 277.5,125.4 284.6,118.5 291.7,96.4 298.8,89.2 305.9,85.7 313.0,91.8 320.1,101.6 327.2,109.7 334.3,104.8 341.4,99.5 348.5,85.9 355.6,78.6" fill="none" stroke="#8c8c8c" stroke-width="0.7" stroke-dasharray="2,0.7" opacity="0.42"/><polyline points="213.6,133.7 220.7,134.3 227.8,145.2 234.9,157.0 242.0,153.4 249.1,147.1 256.2,139.5 263.3,141.6 270.4,147.4 277.5,133.7 284.6,122.8 291.7,97.2 298.8,88.1 305.9,89.5 313.0,95.8 320.1,105.7 327.2,114.3 334.3,104.3 341.4,97.3 348.5,84.3 355.6,76.5" fill="none" stroke="#8c8c8c" stroke-width="0.7" stroke-dasharray="2,0.7" opacity="0.42"/><polyline points="213.6,134.2 220.7,141.7 227.8,155.1 234.9,160.1 242.0,159.3 249.1,152.8 256.2,145.9 263.3,147.3 270.4,148.6 277.5,131.1 284.6,119.0 291.7,99.2 298.8,90.4 305.9,89.8 313.0,91.6 320.1,103.5 327.2,115.8 334.3,110.8 341.4,103.2 348.5,93.8 355.6,87.0" fill="none" stroke="#8c8c8c" stroke-width="0.7" stroke-dasharray="2,0.7" opacity="0.42"/><polyline points="213.6,150.3 220.7,152.6 227.8,161.9 234.9,165.0 242.0,163.2 249.1,154.0 256.2,143.5 263.3,153.8 270.4,164.1 277.5,142.5 284.6,119.8 291.7,93.4 298.8,86.5 305.9,91.7 313.0,94.0 320.1,106.0 327.2,120.2 334.3,109.4 341.4,101.7 348.5,95.2 355.6,91.0" fill="none" stroke="#8c8c8c" stroke-width="0.7" stroke-dasharray="2,0.7" opacity="0.42"/><polyline points="213.6,123.3 220.7,126.3 227.8,131.6 234.9,140.2 242.0,145.7 249.1,149.8 256.2,145.5 263.3,146.1 270.4,145.8 277.5,130.2 284.6,112.9 291.7,84.9 298.8,74.8 305.9,76.3 313.0,83.2 320.1,97.2 327.2,105.4 334.3,93.7 341.4,86.1 348.5,76.1 355.6,69.9" fill="none" stroke="#8c8c8c" stroke-width="0.7" stroke-dasharray="2,0.7" opacity="0.42"/><polyline points="213.6,119.6 220.7,121.5 227.8,127.8 234.9,135.4 242.0,135.6 249.1,129.0 256.2,121.8 263.3,125.3 270.4,126.9 277.5,118.5 284.6,101.3 291.7,93.8 298.8,93.4 305.9,98.4 313.0,99.4 320.1,107.0 327.2,110.0 334.3,107.6 341.4,99.6 348.5,94.3 355.6,86.4" fill="none" stroke="#8c8c8c" stroke-width="0.7" stroke-dasharray="2,0.7" opacity="0.42"/><polyline points="213.6,126.9 220.7,126.6 227.8,142.4 234.9,154.0 242.0,158.9 249.1,154.7 256.2,146.7 263.3,144.5 270.4,141.9 277.5,127.6 284.6,109.9 291.7,90.3 298.8,82.4 305.9,81.5 313.0,86.8 320.1,99.7 327.2,109.7 334.3,109.5 341.4,96.8 348.5,79.4 355.6,69.4" fill="none" stroke="#8c8c8c" stroke-width="0.7" stroke-dasharray="2,0.7" opacity="0.42"/><polyline points="213.6,122.3 220.7,124.6 227.8,135.7 234.9,144.7 242.0,144.1 249.1,151.6 256.2,142.1 263.3,143.2 270.4,143.4 277.5,125.3 284.6,111.3 291.7,93.9 298.8,88.4 305.9,91.6 313.0,95.9 320.1,104.5 327.2,113.4 334.3,101.7 341.4,93.5 348.5,76.3 355.6,73.7" fill="none" stroke="#8c8c8c" stroke-width="0.7" stroke-dasharray="2,0.7" opacity="0.42"/><polyline points="213.6,139.9 220.7,143.1 227.8,148.6 234.9,154.8 242.0,158.5 249.1,153.7 256.2,152.2 263.3,148.7 270.4,146.4 277.5,130.8 284.6,115.5 291.7,93.3 298.8,88.7 305.9,84.0 313.0,91.3 320.1,103.7 327.2,115.8 334.3,108.2 341.4,97.9 348.5,76.2 355.6,69.0" fill="none" stroke="#8c8c8c" stroke-width="0.7" stroke-dasharray="2,0.7" opacity="0.42"/><polyline points="213.6,134.2 220.7,139.2 227.8,150.7 234.9,160.9 242.0,160.2 249.1,152.9 256.2,146.9 263.3,153.9 270.4,163.7 277.5,140.6 284.6,114.9 291.7,83.8 298.8,75.3 305.9,86.9 313.0,88.9 320.1,99.1 327.2,109.9 334.3,94.6 341.4,85.9 348.5,79.7 355.6,74.9" fill="none" stroke="#8c8c8c" stroke-width="0.7" stroke-dasharray="2,0.7" opacity="0.42"/><polyline points="213.6,142.3 220.7,145.8 227.8,152.3 234.9,161.8 242.0,158.0 249.1,150.3 256.2,149.8 263.3,150.8 270.4,142.2 277.5,124.8 284.6,103.8 291.7,76.9 298.8,69.0 305.9,73.5 313.0,82.6 320.1,96.0 327.2,104.9 334.3,95.7 341.4,85.6 348.5,71.4 355.6,64.0" fill="none" stroke="#8c8c8c" stroke-width="0.7" stroke-dasharray="2,0.7" opacity="0.42"/><polyline points="213.6,115.1 220.7,115.7 227.8,118.2 234.9,121.8 242.0,124.2 249.1,120.9 256.2,116.3 263.3,115.1 270.4,114.1 277.5,111.4 284.6,108.3 291.7,102.9 298.8,99.9 305.9,97.1 313.0,99.0 320.1,106.9 327.2,112.4 334.3,112.9 341.4,108.4 348.5,99.9 355.6,96.2" fill="none" stroke="#8c8c8c" stroke-width="0.7" stroke-dasharray="2,0.7" opacity="0.42"/><polyline points="213.6,130.4 220.7,134.8 227.8,147.3 234.9,162.1 242.0,160.6 249.1,162.9 256.2,160.8 263.3,155.2 270.4,155.3 277.5,141.1 284.6,127.9 291.7,93.4 298.8,79.0 305.9,72.7 313.0,84.5 320.1,101.5 327.2,108.8 334.3,91.8 341.4,80.1 348.5,63.8 355.6,57.6" fill="none" stroke="#8c8c8c" stroke-width="0.7" stroke-dasharray="2,0.7" opacity="0.42"/><polyline points="213.6,125.3 220.7,126.4 227.8,130.6 234.9,136.4 242.0,137.4 249.1,137.6 256.2,138.6 263.3,142.6 270.4,138.0 277.5,125.7 284.6,109.4 291.7,89.4 298.8,84.4 305.9,88.6 313.0,91.9 320.1,100.9 327.2,104.6 334.3,97.0 341.4,89.4 348.5,76.5 355.6,70.8" fill="none" stroke="#8c8c8c" stroke-width="0.7" stroke-dasharray="2,0.7" opacity="0.42"/><polyline points="213.6,147.7 220.7,151.4 227.8,170.4 234.9,185.5 242.0,184.1 249.1,177.7 256.2,171.8 263.3,179.3 270.4,183.2 277.5,153.9 284.6,123.6 291.7,81.3 298.8,67.5 305.9,70.1 313.0,76.5 320.1,95.9 327.2,110.0 334.3,93.6 341.4,75.8 348.5,56.0 355.6,45.2" fill="none" stroke="#8c8c8c" stroke-width="0.7" stroke-dasharray="2,0.7" opacity="0.42"/><polyline points="213.6,144.3 220.7,146.2 227.8,158.8 234.9,171.6 242.0,164.8 249.1,158.1 256.2,150.6 263.3,163.0 270.4,167.2 277.5,142.9 284.6,114.8 291.7,79.1 298.8,67.3 305.9,79.2 313.0,87.2 320.1,103.4 327.2,112.6 334.3,96.7 341.4,77.8 348.5,65.0 355.6,54.2" fill="none" stroke="#8c8c8c" stroke-width="0.7" stroke-dasharray="2,0.7" opacity="0.42"/><polyline points="213.6,146.7 220.7,152.3 227.8,162.1 234.9,175.3 242.0,174.5 249.1,163.5 256.2,153.9 263.3,161.9 270.4,166.4 277.5,147.5 284.6,123.8 291.7,88.1 298.8,78.0 305.9,80.7 313.0,85.7 320.1,101.2 327.2,110.3 334.3,96.6 341.4,85.2 348.5,73.3 355.6,66.0" fill="none" stroke="#8c8c8c" stroke-width="0.7" stroke-dasharray="2,0.7" opacity="0.42"/><polyline points="213.6,146.1 220.7,145.4 227.8,153.4 234.9,165.0 242.0,164.5 249.1,160.0 256.2,153.0 263.3,156.9 270.4,161.4 277.5,142.7 284.6,120.8 291.7,88.7 298.8,77.6 305.9,82.4 313.0,89.0 320.1,104.7 327.2,118.7 334.3,106.5 341.4,96.2 348.5,83.8 355.6,75.1" fill="none" stroke="#8c8c8c" stroke-width="0.7" stroke-dasharray="2,0.7" opacity="0.42"/><polyline points="213.6,131.8 220.7,136.0 227.8,143.8 234.9,150.9 242.0,156.5 249.1,150.8 256.2,144.3 263.3,146.7 270.4,137.5 277.5,126.9 284.6,109.3 291.7,82.1 298.8,77.3 305.9,77.6 313.0,79.6 320.1,96.2 327.2,96.9 334.3,92.5 341.4,81.4 348.5,61.0 355.6,54.6" fill="none" stroke="#8c8c8c" stroke-width="0.7" stroke-dasharray="2,0.7" opacity="0.42"/><polyline points="213.6,137.1 220.7,141.6 227.8,148.0 234.9,161.4 242.0,160.1 249.1,147.7 256.2,137.7 263.3,140.0 270.4,141.5 277.5,123.7 284.6,97.2 291.7,71.2 298.8,75.0 305.9,84.5 313.0,88.2 320.1,93.7 327.2,101.6 334.3,90.2 341.4,80.2 348.5,71.1 355.6,66.2" fill="none" stroke="#8c8c8c" stroke-width="0.7" stroke-dasharray="2,0.7" opacity="0.42"/><polyline points="213.6,131.9 220.7,133.4 227.8,145.5 234.9,154.9 242.0,154.4 249.1,152.0 256.2,150.5 263.3,157.9 270.4,159.2 277.5,139.0 284.6,114.9 291.7,91.6 298.8,84.9 305.9,85.0 313.0,84.8 320.1,93.8 327.2,102.0 334.3,97.0 341.4,86.9 348.5,76.1 355.6,68.2" fill="none" stroke="#8c8c8c" stroke-width="0.7" stroke-dasharray="2,0.7" opacity="0.42"/><polyline points="213.6,132.5 220.7,134.5 227.8,141.2 234.9,148.0 242.0,145.9 249.1,139.9 256.2,131.7 263.3,130.7 270.4,131.2 277.5,119.2 284.6,104.7 291.7,90.8 298.8,84.1 305.9,85.2 313.0,91.0 320.1,103.3 327.2,113.4 334.3,112.6 341.4,105.4 348.5,97.2 355.6,92.3" fill="none" stroke="#8c8c8c" stroke-width="0.7" stroke-dasharray="2,0.7" opacity="0.42"/><polyline points="213.6,152.2 220.7,150.5 227.8,159.2 234.9,170.4 242.0,171.0 249.1,165.0 256.2,163.8 263.3,162.9 270.4,163.7 277.5,142.9 284.6,113.8 291.7,85.5 298.8,74.0 305.9,80.3 313.0,84.9 320.1,99.4 327.2,113.4 334.3,104.5 341.4,89.6 348.5,76.5 355.6,66.9" fill="none" stroke="#8c8c8c" stroke-width="0.7" stroke-dasharray="2,0.7" opacity="0.42"/><polyline points="213.6,120.4 220.7,118.9 227.8,126.5 234.9,136.2 242.0,135.0 249.1,136.1 256.2,136.5 263.3,142.5 270.4,147.3 277.5,131.5 284.6,113.0 291.7,95.7 298.8,90.1 305.9,96.4 313.0,95.3 320.1,102.0 327.2,105.9 334.3,95.3 341.4,86.9 348.5,82.8 355.6,77.2" fill="none" stroke="#8c8c8c" stroke-width="0.7" stroke-dasharray="2,0.7" opacity="0.42"/><polyline points="213.6,148.8 220.7,152.2 227.8,166.0 234.9,177.4 242.0,178.2 249.1,171.2 256.2,166.5 263.3,169.4 270.4,168.7 277.5,141.7 284.6,115.9 291.7,81.5 298.8,70.3 305.9,70.1 313.0,76.2 320.1,97.3 327.2,111.2 334.3,100.0 341.4,84.4 348.5,72.9 355.6,67.5" fill="none" stroke="#8c8c8c" stroke-width="0.7" stroke-dasharray="2,0.7" opacity="0.42"/><polyline points="213.6,151.0 220.7,152.7 227.8,165.0 234.9,172.6 242.0,164.6 249.1,162.2 256.2,159.9 263.3,163.6 270.4,169.9 277.5,147.4 284.6,123.5 291.7,87.1 298.8,74.5 305.9,75.9 313.0,85.2 320.1,97.8 327.2,117.1 334.3,104.2 341.4,90.8 348.5,74.6 355.6,60.4" fill="none" stroke="#8c8c8c" stroke-width="0.7" stroke-dasharray="2,0.7" opacity="0.42"/><polyline points="213.6,115.9 220.7,119.7 227.8,129.0 234.9,137.0 242.0,140.4 249.1,140.8 256.2,138.1 263.3,140.5 270.4,141.5 277.5,127.5 284.6,110.0 291.7,91.4 298.8,85.3 305.9,89.7 313.0,95.4 320.1,105.1 327.2,111.5 334.3,101.9 341.4,93.3 348.5,86.7 355.6,81.8" fill="none" stroke="#8c8c8c" stroke-width="0.7" stroke-dasharray="2,0.7" opacity="0.42"/><polyline points="213.6,149.0 220.7,149.4 227.8,160.9 234.9,173.9 242.0,177.5 249.1,170.4 256.2,170.6 263.3,177.3 270.4,175.7 277.5,149.9 284.6,122.1 291.7,86.5 298.8,76.1 305.9,77.9 313.0,80.0 320.1,95.8 327.2,108.1 334.3,91.3 341.4,76.2 348.5,60.2 355.6,48.9" fill="none" stroke="#8c8c8c" stroke-width="0.7" stroke-dasharray="2,0.7" opacity="0.42"/><polyline points="213.6,147.9 220.7,153.5 227.8,160.9 234.9,166.8 242.0,165.2 249.1,156.4 256.2,150.2 263.3,151.1 270.4,152.7 277.5,137.4 284.6,119.3 291.7,94.3 298.8,87.0 305.9,89.0 313.0,92.8 320.1,104.8 327.2,112.9 334.3,103.9 341.4,96.8 348.5,89.7 355.6,84.0" fill="none" stroke="#8c8c8c" stroke-width="0.7" stroke-dasharray="2,0.7" opacity="0.42"/><polyline points="213.6,138.8 220.7,139.3 227.8,143.0 234.9,147.7 242.0,146.5 249.1,142.3 256.2,135.2 263.3,134.9 270.4,134.7 277.5,123.9 284.6,110.3 291.7,94.5 298.8,90.6 305.9,89.8 313.0,93.2 320.1,99.5 327.2,109.3 334.3,107.5 341.4,101.3 348.5,92.2 355.6,86.8" fill="none" stroke="#8c8c8c" stroke-width="0.7" stroke-dasharray="2,0.7" opacity="0.42"/><polyline points="213.6,124.4 220.7,122.4 227.8,129.0 234.9,140.2 242.0,143.1 249.1,141.9 256.2,143.1 263.3,144.8 270.4,148.0 277.5,132.8 284.6,114.8 291.7,91.6 298.8,87.7 305.9,91.9 313.0,95.1 320.1,101.4 327.2,110.6 334.3,101.6 341.4,92.1 348.5,75.4 355.6,67.6" fill="none" stroke="#8c8c8c" stroke-width="0.7" stroke-dasharray="2,0.7" opacity="0.42"/><polyline points="213.6,121.3 220.7,123.5 227.8,131.6 234.9,134.2 242.0,132.1 249.1,130.0 256.2,126.0 263.3,133.1 270.4,134.9 277.5,119.7 284.6,104.0 291.7,90.1 298.8,86.1 305.9,90.2 313.0,91.5 320.1,100.5 327.2,108.6 334.3,103.1 341.4,100.9 348.5,98.3 355.6,94.2" fill="none" stroke="#8c8c8c" stroke-width="0.7" stroke-dasharray="2,0.7" opacity="0.42"/><polyline points="213.6,115.9 220.7,121.8 227.8,128.2 234.9,137.2 242.0,142.5 249.1,135.5 256.2,128.1 263.3,128.8 270.4,124.3 277.5,113.5 284.6,100.0 291.7,82.7 298.8,79.5 305.9,83.4 313.0,88.1 320.1,99.6 327.2,104.0 334.3,100.0 341.4,94.0 348.5,86.5 355.6,79.4" fill="none" stroke="#8c8c8c" stroke-width="0.7" stroke-dasharray="2,0.7" opacity="0.42"/><polyline points="213.6,122.2 220.7,122.3 227.8,129.6 234.9,137.8 242.0,137.5 249.1,131.7 256.2,127.0 263.3,128.1 270.4,126.4 277.5,115.9 284.6,104.3 291.7,88.8 298.8,82.6 305.9,84.9 313.0,89.4 320.1,98.2 327.2,105.1 334.3,98.8 341.4,93.2 348.5,82.6 355.6,78.1" fill="none" stroke="#8c8c8c" stroke-width="0.7" stroke-dasharray="2,0.7" opacity="0.42"/><polyline points="213.6,135.2 220.7,134.6 227.8,141.6 234.9,149.3 242.0,150.6 249.1,143.4 256.2,136.6 263.3,140.6 270.4,142.9 277.5,127.9 284.6,114.0 291.7,96.6 298.8,92.3 305.9,95.0 313.0,95.7 320.1,107.9 327.2,116.0 334.3,107.2 341.4,95.8 348.5,86.7 355.6,81.5" fill="none" stroke="#8c8c8c" stroke-width="0.7" stroke-dasharray="2,0.7" opacity="0.42"/><polyline points="213.6,125.4 220.7,124.3 227.8,132.3 234.9,147.5 242.0,154.5 249.1,156.2 256.2,153.9 263.3,151.1 270.4,149.3 277.5,132.3 284.6,117.2 291.7,93.9 298.8,86.3 305.9,89.1 313.0,94.0 320.1,105.3 327.2,109.0 334.3,98.2 341.4,85.5 348.5,67.8 355.6,61.8" fill="none" stroke="#8c8c8c" stroke-width="0.7" stroke-dasharray="2,0.7" opacity="0.42"/><polyline points="213.6,143.1 220.7,141.1 227.8,148.5 234.9,159.5 242.0,160.8 249.1,160.3 256.2,157.0 263.3,156.8 270.4,153.8 277.5,132.8 284.6,114.7 291.7,80.9 298.8,73.1 305.9,78.9 313.0,85.9 320.1,97.6 327.2,99.8 334.3,84.1 341.4,75.4 348.5,58.7 355.6,48.2" fill="none" stroke="#8c8c8c" stroke-width="0.7" stroke-dasharray="2,0.7" opacity="0.42"/><polyline points="213.6,133.3 220.7,133.3 227.8,143.1 234.9,152.1 242.0,154.1 249.1,152.8 256.2,150.6 263.3,154.2 270.4,157.2 277.5,138.5 284.6,114.9 291.7,87.8 298.8,78.3 305.9,82.0 313.0,90.7 320.1,103.6 327.2,112.7 334.3,103.4 341.4,91.4 348.5,80.9 355.6,74.4" fill="none" stroke="#8c8c8c" stroke-width="0.7" stroke-dasharray="2,0.7" opacity="0.42"/><polyline points="213.6,145.1 220.7,145.1 227.8,159.0 234.9,164.1 242.0,162.0 249.1,154.0 256.2,145.0 263.3,150.7 270.4,157.9 277.5,137.0 284.6,112.9 291.7,85.0 298.8,74.1 305.9,79.9 313.0,85.7 320.1,102.4 327.2,111.9 334.3,99.9 341.4,87.9 348.5,78.8 355.6,71.1" fill="none" stroke="#8c8c8c" stroke-width="0.7" stroke-dasharray="2,0.7" opacity="0.42"/><polyline points="213.6,142.7 220.7,144.4 227.8,154.5 234.9,169.1 242.0,162.9 249.1,157.1 256.2,153.9 263.3,158.5 270.4,162.7 277.5,143.6 284.6,117.1 291.7,86.8 298.8,77.6 305.9,77.7 313.0,82.0 320.1,96.9 327.2,110.1 334.3,100.7 341.4,89.4 348.5,73.3 355.6,64.6" fill="none" stroke="#8c8c8c" stroke-width="0.7" stroke-dasharray="2,0.7" opacity="0.42"/><polyline points="213.6,139.2 220.7,142.4 227.8,156.3 234.9,165.3 242.0,167.3 249.1,165.4 256.2,163.7 263.3,170.0 270.4,171.3 277.5,147.6 284.6,120.9 291.7,86.7 298.8,74.6 305.9,77.6 313.0,81.3 320.1,96.5 327.2,109.7 334.3,96.6 341.4,86.8 348.5,74.6 355.6,65.7" fill="none" stroke="#8c8c8c" stroke-width="0.7" stroke-dasharray="2,0.7" opacity="0.42"/><polyline points="213.6,117.6 220.7,119.8 227.8,126.3 234.9,135.3 242.0,138.0 249.1,140.1 256.2,142.0 263.3,145.9 270.4,138.1 277.5,124.5 284.6,109.8 291.7,94.1 298.8,86.2 305.9,87.9 313.0,93.0 320.1,99.1 327.2,99.3 334.3,90.7 341.4,82.3 348.5,75.8 355.6,75.5" fill="none" stroke="#8c8c8c" stroke-width="0.7" stroke-dasharray="2,0.7" opacity="0.42"/><polyline points="213.6,114.3 220.7,111.9 227.8,119.9 234.9,129.3 242.0,134.9 249.1,130.3 256.2,131.4 263.3,133.1 270.4,131.9 277.5,121.3 284.6,110.0 291.7,94.6 298.8,93.8 305.9,95.3 313.0,97.7 320.1,103.6 327.2,105.5 334.3,99.3 341.4,93.4 348.5,82.3 355.6,78.4" fill="none" stroke="#8c8c8c" stroke-width="0.7" stroke-dasharray="2,0.7" opacity="0.42"/><polyline points="213.6,141.8 220.7,144.1 227.8,155.3 234.9,168.6 242.0,169.1 249.1,164.8 256.2,159.5 263.3,162.7 270.4,161.6 277.5,138.1 284.6,110.0 291.7,77.4 298.8,67.4 305.9,77.1 313.0,83.6 320.1,98.1 327.2,107.3 334.3,92.7 341.4,78.1 348.5,64.6 355.6,57.5" fill="none" stroke="#8c8c8c" stroke-width="0.7" stroke-dasharray="2,0.7" opacity="0.42"/><polyline points="213.6,115.4 220.7,118.7 227.8,125.8 234.9,135.4 242.0,143.2 249.1,143.7 256.2,145.3 263.3,146.8 270.4,145.0 277.5,130.2 284.6,117.5 291.7,98.5 298.8,91.6 305.9,91.1 313.0,99.6 320.1,108.7 327.2,116.7 334.3,108.1 341.4,100.3 348.5,88.3 355.6,80.3" fill="none" stroke="#8c8c8c" stroke-width="0.7" stroke-dasharray="2,0.7" opacity="0.42"/><polyline points="213.6,120.7 220.7,124.9 227.8,133.2 234.9,143.4 242.0,150.6 249.1,144.5 256.2,137.8 263.3,138.5 270.4,136.6 277.5,122.4 284.6,107.9 291.7,84.1 298.8,80.5 305.9,87.1 313.0,88.1 320.1,97.2 327.2,102.9 334.3,94.4 341.4,88.9 348.5,80.7 355.6,72.0" fill="none" stroke="#8c8c8c" stroke-width="0.7" stroke-dasharray="2,0.7" opacity="0.42"/><polyline points="213.6,132.5 220.7,136.8 227.8,145.7 234.9,155.0 242.0,157.3 249.1,155.8 256.2,150.7 263.3,150.5 270.4,146.4 277.5,126.2 284.6,110.5 291.7,81.4 298.8,73.1 305.9,82.2 313.0,90.4 320.1,101.3 327.2,105.0 334.3,88.1 341.4,77.1 348.5,66.0 355.6,60.3" fill="none" stroke="#8c8c8c" stroke-width="0.7" stroke-dasharray="2,0.7" opacity="0.42"/><polyline points="213.6,137.5 220.7,142.8 227.8,159.2 234.9,168.1 242.0,166.3 249.1,158.9 256.2,158.8 263.3,166.7 270.4,174.4 277.5,150.2 284.6,124.4 291.7,94.7 298.8,80.4 305.9,82.8 313.0,90.4 320.1,103.6 327.2,112.2 334.3,100.1 341.4,89.9 348.5,84.9 355.6,84.2" fill="none" stroke="#8c8c8c" stroke-width="0.7" stroke-dasharray="2,0.7" opacity="0.42"/><polyline points="213.6,140.0 220.7,144.1 227.8,157.8 234.9,174.2 242.0,176.2 249.1,169.3 256.2,165.9 263.3,163.1 270.4,155.3 277.5,136.2 284.6,110.2 291.7,80.8 298.8,71.3 305.9,67.3 313.0,81.9 320.1,101.8 327.2,116.2 334.3,106.7 341.4,88.1 348.5,67.6 355.6,56.5" fill="none" stroke="#8c8c8c" stroke-width="0.7" stroke-dasharray="2,0.7" opacity="0.42"/><polyline points="213.6,135.4 220.7,138.3 227.8,145.8 234.9,153.8 242.0,154.8 249.1,153.5 256.2,147.6 263.3,147.0 270.4,144.4 277.5,128.6 284.6,113.1 291.7,88.5 298.8,81.2 305.9,85.6 313.0,92.6 320.1,105.1 327.2,109.3 334.3,98.7 341.4,89.5 348.5,76.5 355.6,70.8" fill="none" stroke="#8c8c8c" stroke-width="0.7" stroke-dasharray="2,0.7" opacity="0.42"/><polyline points="213.6,137.9 220.7,140.9 227.8,147.9 234.9,157.8 242.0,158.8 249.1,153.0 256.2,149.5 263.3,154.1 270.4,156.1 277.5,134.7 284.6,111.3 291.7,86.0 298.8,77.2 305.9,77.8 313.0,83.2 320.1,95.8 327.2,109.3 334.3,101.4 341.4,94.2 348.5,83.1 355.6,77.8" fill="none" stroke="#8c8c8c" stroke-width="0.7" stroke-dasharray="2,0.7" opacity="0.42"/><polyline points="213.6,138.9 220.7,138.4 227.8,144.0 234.9,149.0 242.0,151.0 249.1,143.1 256.2,136.3 263.3,139.9 270.4,142.6 277.5,131.8 284.6,117.9 291.7,90.3 298.8,85.7 305.9,81.5 313.0,89.5 320.1,99.1 327.2,110.6 334.3,110.4 341.4,102.1 348.5,81.7 355.6,73.6" fill="none" stroke="#8c8c8c" stroke-width="0.7" stroke-dasharray="2,0.7" opacity="0.42"/><polyline points="213.6,146.6 220.7,147.6 227.8,163.5 234.9,179.9 242.0,178.3 249.1,167.8 256.2,155.0 263.3,162.2 270.4,165.4 277.5,140.1 284.6,117.3 291.7,75.7 298.8,67.4 305.9,78.0 313.0,83.0 320.1,102.6 327.2,115.4 334.3,100.4 341.4,89.8 348.5,71.2 355.6,62.6" fill="none" stroke="#8c8c8c" stroke-width="0.7" stroke-dasharray="2,0.7" opacity="0.42"/><polyline points="213.6,128.0 220.7,126.5 227.8,133.5 234.9,141.0 242.0,143.3 249.1,143.5 256.2,139.5 263.3,139.2 270.4,139.6 277.5,128.2 284.6,112.6 291.7,98.9 298.8,91.7 305.9,90.1 313.0,92.1 320.1,101.5 327.2,109.2 334.3,102.7 341.4,93.1 348.5,80.2 355.6,73.2" fill="none" stroke="#8c8c8c" stroke-width="0.7" stroke-dasharray="2,0.7" opacity="0.42"/><polyline points="213.6,141.7 220.7,146.4 227.8,158.4 234.9,168.0 242.0,173.2 249.1,168.4 256.2,160.9 263.3,160.1 270.4,157.8 277.5,139.4 284.6,120.7 291.7,92.7 298.8,83.9 305.9,85.3 313.0,94.5 320.1,108.7 327.2,120.3 334.3,111.8 341.4,97.8 348.5,82.8 355.6,70.6" fill="none" stroke="#8c8c8c" stroke-width="0.7" stroke-dasharray="2,0.7" opacity="0.42"/><polyline points="213.6,125.3 220.7,126.8 227.8,132.7 234.9,140.3 242.0,136.4 249.1,132.0 256.2,131.7 263.3,139.1 270.4,141.1 277.5,128.9 284.6,112.6 291.7,97.3 298.8,94.0 305.9,95.6 313.0,96.9 320.1,104.9 327.2,111.9 334.3,102.4 341.4,95.2 348.5,85.7 355.6,80.5" fill="none" stroke="#8c8c8c" stroke-width="0.7" stroke-dasharray="2,0.7" opacity="0.42"/><polyline points="213.6,117.7 220.7,117.4 227.8,120.0 234.9,127.3 242.0,130.5 249.1,131.9 256.2,126.5 263.3,126.6 270.4,125.7 277.5,116.3 284.6,112.3 291.7,99.2 298.8,95.8 305.9,98.6 313.0,100.7 320.1,103.8 327.2,104.3 334.3,97.0 341.4,90.4 348.5,86.1 355.6,82.9" fill="none" stroke="#8c8c8c" stroke-width="0.7" stroke-dasharray="2,0.7" opacity="0.42"/><polyline points="213.6,145.0 220.7,146.4 227.8,158.4 234.9,164.2 242.0,159.0 249.1,150.6 256.2,144.6 263.3,155.9 270.4,163.5 277.5,139.4 284.6,110.1 291.7,78.5 298.8,70.7 305.9,79.4 313.0,86.3 320.1,99.1 327.2,108.3 334.3,92.5 341.4,84.7 348.5,77.7 355.6,73.6" fill="none" stroke="#8c8c8c" stroke-width="0.7" stroke-dasharray="2,0.7" opacity="0.42"/><polyline points="213.6,127.3 220.7,130.6 227.8,134.0 234.9,139.3 242.0,139.9 249.1,135.4 256.2,129.7 263.3,128.8 270.4,127.4 277.5,117.8 284.6,106.8 291.7,92.6 298.8,90.1 305.9,93.2 313.0,97.1 320.1,104.4 327.2,110.6 334.3,105.3 341.4,96.4 348.5,86.0 355.6,79.0" fill="none" stroke="#8c8c8c" stroke-width="0.7" stroke-dasharray="2,0.7" opacity="0.42"/><polyline points="213.6,129.2 220.7,132.8 227.8,138.7 234.9,143.3 242.0,142.1 249.1,141.0 256.2,138.9 263.3,141.1 270.4,139.5 277.5,128.2 284.6,112.6 291.7,101.0 298.8,95.7 305.9,95.5 313.0,100.4 320.1,110.1 327.2,116.0 334.3,111.2 341.4,99.3 348.5,90.0 355.6,85.1" fill="none" stroke="#8c8c8c" stroke-width="0.7" stroke-dasharray="2,0.7" opacity="0.42"/><polyline points="213.6,138.8 220.7,143.6 227.8,161.6 234.9,174.2 242.0,173.0 249.1,162.0 256.2,153.3 263.3,161.3 270.4,167.5 277.5,138.4 284.6,114.5 291.7,78.8 298.8,67.2 305.9,69.8 313.0,76.9 320.1,97.4 327.2,115.5 334.3,100.4 341.4,88.1 348.5,70.8 355.6,62.8" fill="none" stroke="#8c8c8c" stroke-width="0.7" stroke-dasharray="2,0.7" opacity="0.42"/><polyline points="213.6,146.4 220.7,146.1 227.8,157.2 234.9,168.2 242.0,166.8 249.1,167.8 256.2,162.6 263.3,163.5 270.4,162.1 277.5,140.0 284.6,118.2 291.7,86.0 298.8,75.7 305.9,82.7 313.0,91.2 320.1,107.5 327.2,114.5 334.3,105.8 341.4,95.3 348.5,81.3 355.6,75.5" fill="none" stroke="#8c8c8c" stroke-width="0.7" stroke-dasharray="2,0.7" opacity="0.42"/><polyline points="213.6,135.8 220.7,137.3 227.8,148.4 234.9,161.0 242.0,161.1 249.1,156.8 256.2,155.0 263.3,162.2 270.4,163.1 277.5,138.2 284.6,111.7 291.7,80.7 298.8,72.4 305.9,73.6 313.0,78.5 320.1,91.6 327.2,100.2 334.3,84.1 341.4,75.6 348.5,63.1 355.6,54.5" fill="none" stroke="#8c8c8c" stroke-width="0.7" stroke-dasharray="2,0.7" opacity="0.42"/><polyline points="213.6,134.2 220.7,139.1 227.8,147.7 234.9,156.5 242.0,156.0 249.1,150.2 256.2,140.5 263.3,145.1 270.4,147.6 277.5,133.1 284.6,110.5 291.7,90.3 298.8,82.9 305.9,87.8 313.0,86.3 320.1,94.1 327.2,106.7 334.3,103.5 341.4,94.3 348.5,86.6 355.6,81.1" fill="none" stroke="#8c8c8c" stroke-width="0.7" stroke-dasharray="2,0.7" opacity="0.42"/><polyline points="213.6,142.9 220.7,147.4 227.8,159.2 234.9,170.9 242.0,169.0 249.1,163.2 256.2,153.6 263.3,155.1 270.4,155.2 277.5,137.4 284.6,111.7 291.7,83.6 298.8,73.2 305.9,76.1 313.0,82.8 320.1,100.9 327.2,115.3 334.3,111.3 341.4,97.6 348.5,80.7 355.6,73.5" fill="none" stroke="#8c8c8c" stroke-width="0.7" stroke-dasharray="2,0.7" opacity="0.42"/><polyline points="213.6,132.6 220.7,135.6 227.8,144.2 234.9,142.0 242.0,137.9 249.1,127.9 256.2,121.4 263.3,126.3 270.4,128.6 277.5,116.6 284.6,102.4 291.7,83.6 298.8,79.4 305.9,84.2 313.0,88.3 320.1,99.4 327.2,106.2 334.3,97.1 341.4,94.1 348.5,90.4 355.6,86.7" fill="none" stroke="#8c8c8c" stroke-width="0.7" stroke-dasharray="2,0.7" opacity="0.42"/><polyline points="213.6,140.3 220.7,144.3 227.8,161.3 234.9,168.9 242.0,165.8 249.1,160.0 256.2,153.2 263.3,160.9 270.4,164.4 277.5,141.8 284.6,118.6 291.7,81.9 298.8,69.3 305.9,73.4 313.0,79.2 320.1,101.3 327.2,112.5 334.3,97.8 341.4,87.0 348.5,70.8 355.6,62.7" fill="none" stroke="#8c8c8c" stroke-width="0.7" stroke-dasharray="2,0.7" opacity="0.42"/><polyline points="213.6,128.8 220.7,140.1 227.8,151.0 234.9,162.6 242.0,167.0 249.1,163.9 256.2,169.4 263.3,168.0 270.4,165.8 277.5,150.1 284.6,124.7 291.7,86.1 298.8,77.8 305.9,74.2 313.0,85.9 320.1,104.0 327.2,115.5 334.3,102.2 341.4,87.3 348.5,62.4 355.6,53.1" fill="none" stroke="#8c8c8c" stroke-width="0.7" stroke-dasharray="2,0.7" opacity="0.42"/><polyline points="213.6,147.3 220.7,147.3 227.8,158.9 234.9,168.8 242.0,168.7 249.1,167.5 256.2,162.6 263.3,166.9 270.4,169.2 277.5,141.7 284.6,113.3 291.7,84.9 298.8,77.8 305.9,81.9 313.0,88.4 320.1,98.1 327.2,112.9 334.3,101.8 341.4,82.9 348.5,68.3 355.6,63.9" fill="none" stroke="#8c8c8c" stroke-width="0.7" stroke-dasharray="2,0.7" opacity="0.42"/><polyline points="213.6,141.4 220.7,145.4 227.8,153.3 234.9,163.9 242.0,164.4 249.1,157.0 256.2,154.0 263.3,154.8 270.4,154.1 277.5,137.7 284.6,115.7 291.7,83.0 298.8,72.8 305.9,75.0 313.0,83.2 320.1,101.9 327.2,107.8 334.3,98.0 341.4,87.5 348.5,75.2 355.6,68.9" fill="none" stroke="#8c8c8c" stroke-width="0.7" stroke-dasharray="2,0.7" opacity="0.42"/><polyline points="213.6,128.6 220.7,128.0 227.8,136.0 234.9,144.9 242.0,141.8 249.1,135.9 256.2,136.9 263.3,138.3 270.4,140.7 277.5,124.6 284.6,105.6 291.7,84.9 298.8,77.5 305.9,79.2 313.0,85.0 320.1,95.3 327.2,101.7 334.3,90.3 341.4,82.6 348.5,77.6 355.6,75.3" fill="none" stroke="#8c8c8c" stroke-width="0.7" stroke-dasharray="2,0.7" opacity="0.42"/><polyline points="213.6,126.5 220.7,127.2 227.8,138.5 234.9,145.8 242.0,147.0 249.1,148.4 256.2,148.8 263.3,150.4 270.4,152.7 277.5,135.4 284.6,113.6 291.7,93.2 298.8,83.2 305.9,79.0 313.0,84.7 320.1,98.3 327.2,111.5 334.3,107.9 341.4,99.9 348.5,86.6 355.6,79.5" fill="none" stroke="#8c8c8c" stroke-width="0.7" stroke-dasharray="2,0.7" opacity="0.42"/><polyline points="213.6,109.4 220.7,109.2 227.8,115.7 234.9,120.8 242.0,135.2 249.1,132.1 256.2,127.2 263.3,129.4 270.4,119.4 277.5,110.5 284.6,103.7 291.7,92.7 298.8,88.7 305.9,88.0 313.0,86.8 320.1,98.0 327.2,99.0 334.3,100.8 341.4,92.6 348.5,85.3 355.6,81.4" fill="none" stroke="#a8a8a8" stroke-width="0.6" stroke-dasharray="1.2,1.2" opacity="0.9"/><polyline points="213.6,164.6 220.7,177.6 227.8,210.7 234.9,219.7 242.0,210.1 249.1,206.9 256.2,184.3 263.3,204.3 270.4,230.2 277.5,177.2 284.6,137.4 291.7,94.9 298.8,66.6 305.9,62.3 313.0,71.0 320.1,97.4 327.2,133.9 334.3,118.9 341.4,103.8 348.5,98.7 355.6,104.0" fill="none" stroke="#a8a8a8" stroke-width="0.6" stroke-dasharray="1.2,1.2" opacity="0.9"/><polyline points="213.6,139.5 220.7,140.7 227.8,152.6 234.9,156.4 242.0,143.4 249.1,140.3 256.2,136.3 263.3,140.8 270.4,143.0 277.5,129.4 284.6,106.0 291.7,99.0 298.8,94.3 305.9,96.0 313.0,96.3 320.1,101.5 327.2,111.5 334.3,105.4 341.4,101.8 348.5,97.0 355.6,95.1" fill="none" stroke="#a8a8a8" stroke-width="0.6" stroke-dasharray="1.2,1.2" opacity="0.9"/><polyline points="213.6,131.7 220.7,130.5 227.8,133.5 234.9,132.5 242.0,124.0 249.1,116.6 256.2,115.2 263.3,123.7 270.4,129.7 277.5,121.1 284.6,97.8 291.7,93.0 298.8,83.5 305.9,77.7 313.0,75.0 320.1,85.6 327.2,92.4 334.3,92.4 341.4,90.6 348.5,87.4 355.6,93.8" fill="none" stroke="#a8a8a8" stroke-width="0.6" stroke-dasharray="1.2,1.2" opacity="0.9"/><polyline points="213.6,118.1 220.7,121.4 227.8,125.9 234.9,131.5 242.0,121.4 249.1,116.2 256.2,119.3 263.3,130.2 270.4,123.6 277.5,108.7 284.6,83.7 291.7,79.6 298.8,82.6 305.9,87.1 313.0,97.3 320.1,109.1 327.2,128.0 334.3,123.5 341.4,116.2 348.5,97.3 355.6,88.1" fill="none" stroke="#a8a8a8" stroke-width="0.6" stroke-dasharray="1.2,1.2" opacity="0.9"/><polyline points="213.6,164.9 220.7,179.7 227.8,195.3 234.9,202.0 242.0,200.0 249.1,188.3 256.2,172.6 263.3,182.4 270.4,193.7 277.5,161.3 284.6,118.4 291.7,75.4 298.8,52.6 305.9,62.7 313.0,64.7 320.1,89.7 327.2,115.2 334.3,104.9 341.4,86.3 348.5,82.7 355.6,84.3" fill="none" stroke="#a8a8a8" stroke-width="0.6" stroke-dasharray="1.2,1.2" opacity="0.9"/><polyline points="213.6,148.2 220.7,149.7 227.8,158.5 234.9,168.7 242.0,170.7 249.1,165.7 256.2,157.0 263.3,156.5 270.4,152.5 277.5,132.7 284.6,110.2 291.7,78.4 298.8,65.5 305.9,71.7 313.0,77.8 320.1,92.2 327.2,103.4 334.3,91.5 341.4,76.4 348.5,59.6 355.6,50.8" fill="none" stroke="#a8a8a8" stroke-width="0.6" stroke-dasharray="1.2,1.2" opacity="0.9"/><polyline points="213.6,147.0 220.7,147.5 227.8,155.9 234.9,161.7 242.0,167.0 249.1,164.4 256.2,158.6 263.3,161.3 270.4,158.1 277.5,143.1 284.6,124.6 291.7,87.0 298.8,66.3 305.9,72.3 313.0,83.6 320.1,108.1 327.2,116.7 334.3,96.6 341.4,80.7 348.5,68.8 355.6,52.4" fill="none" stroke="#a8a8a8" stroke-width="0.6" stroke-dasharray="1.2,1.2" opacity="0.9"/><polyline points="213.6,163.1 220.7,166.7 227.8,166.7 234.9,183.5 242.0,184.1 249.1,185.4 256.2,167.7 263.3,174.1 270.4,171.7 277.5,146.7 284.6,120.6 291.7,83.0 298.8,65.1 305.9,69.1 313.0,78.8 320.1,104.5 327.2,128.5 334.3,109.6 341.4,87.8 348.5,61.5 355.6,48.0" fill="none" stroke="#a8a8a8" stroke-width="0.6" stroke-dasharray="1.2,1.2" opacity="0.9"/><polyline points="213.6,165.3 220.7,167.3 227.8,180.1 234.9,199.7 242.0,190.3 249.1,186.3 256.2,171.2 263.3,173.8 270.4,169.2 277.5,149.3 284.6,120.3 291.7,80.8 298.8,66.4 305.9,78.1 313.0,83.6 320.1,105.4 327.2,120.2 334.3,107.6 341.4,96.0 348.5,60.4 355.6,45.7" fill="none" stroke="#a8a8a8" stroke-width="0.6" stroke-dasharray="1.2,1.2" opacity="0.9"/><polyline points="213.6,166.8 220.7,168.5 227.8,175.5 234.9,196.3 242.0,199.5 249.1,188.2 256.2,177.5 263.3,180.0 270.4,178.0 277.5,151.6 284.6,117.9 291.7,69.9 298.8,52.5 305.9,56.0 313.0,64.6 320.1,84.6 327.2,102.2 334.3,85.2 341.4,66.0 348.5,42.5 355.6,32.1" fill="none" stroke="#a8a8a8" stroke-width="0.6" stroke-dasharray="1.2,1.2" opacity="0.9"/><polyline points="213.6,162.1 220.7,164.3 227.8,177.3 234.9,191.1 242.0,195.1 249.1,184.4 256.2,183.1 263.3,188.9 270.4,184.2 277.5,150.4 284.6,124.0 291.7,65.4 298.8,43.5 305.9,49.4 313.0,59.4 320.1,83.3 327.2,108.3 334.3,83.5 341.4,69.5 348.5,48.1 355.6,32.4" fill="none" stroke="#a8a8a8" stroke-width="0.6" stroke-dasharray="1.2,1.2" opacity="0.9"/><polyline points="213.6,136.2 220.7,133.9 227.8,140.6 234.9,152.6 242.0,152.6 249.1,145.8 256.2,146.9 263.3,143.8 270.4,145.8 277.5,128.7 284.6,116.5 291.7,93.8 298.8,86.7 305.9,88.8 313.0,106.0 320.1,125.7 327.2,150.5 334.3,142.4 341.4,126.0 348.5,96.1 355.6,84.7" fill="none" stroke="#a8a8a8" stroke-width="0.6" stroke-dasharray="1.2,1.2" opacity="0.9"/><polyline points="213.6,124.3 220.7,128.4 227.8,135.7 234.9,145.1 242.0,150.2 249.1,150.6 256.2,143.6 263.3,147.8 270.4,141.6 277.5,131.0 284.6,118.4 291.7,97.5 298.8,89.9 305.9,92.8 313.0,99.9 320.1,123.7 327.2,140.1 334.3,128.5 341.4,107.9 348.5,87.4 355.6,75.9" fill="none" stroke="#a8a8a8" stroke-width="0.6" stroke-dasharray="1.2,1.2" opacity="0.9"/><polyline points="213.6,125.7 220.7,123.2 227.8,134.2 234.9,145.5 242.0,150.3 249.1,146.7 256.2,145.0 263.3,147.8 270.4,148.6 277.5,135.0 284.6,123.9 291.7,90.7 298.8,80.6 305.9,83.7 313.0,97.0 320.1,116.3 327.2,134.5 334.3,125.2 341.4,110.6 348.5,82.4 355.6,67.8" fill="none" stroke="#a8a8a8" stroke-width="0.6" stroke-dasharray="1.2,1.2" opacity="0.9"/><polyline points="213.6,132.1 220.7,132.2 227.8,144.9 234.9,149.6 242.0,152.7 249.1,148.1 256.2,145.8 263.3,155.8 270.4,148.9 277.5,134.2 284.6,122.9 291.7,91.5 298.8,82.7 305.9,82.0 313.0,91.0 320.1,118.7 327.2,134.9 334.3,126.6 341.4,109.1 348.5,87.2 355.6,74.6" fill="none" stroke="#a8a8a8" stroke-width="0.6" stroke-dasharray="1.2,1.2" opacity="0.9"/><polyline points="213.6,130.7 220.7,134.6 227.8,131.7 234.9,140.0 242.0,146.0 249.1,137.0 256.2,132.3 263.3,138.3 270.4,141.5 277.5,131.4 284.6,115.4 291.7,85.5 298.8,77.8 305.9,79.8 313.0,92.5 320.1,112.9 327.2,132.2 334.3,128.9 341.4,112.2 348.5,90.1 355.6,77.3" fill="none" stroke="#a8a8a8" stroke-width="0.6" stroke-dasharray="1.2,1.2" opacity="0.9"/><polyline points="213.6,125.8 220.7,126.1 227.8,132.5 234.9,143.4 242.0,148.3 249.1,145.6 256.2,144.5 263.3,148.1 270.4,153.5 277.5,148.0 284.6,144.8 291.7,110.6 298.8,91.3 305.9,86.6 313.0,89.6 320.1,97.7 327.2,107.8 334.3,96.5 341.4,88.7 348.5,75.7 355.6,72.9" fill="none" stroke="#a8a8a8" stroke-width="0.6" stroke-dasharray="1.2,1.2" opacity="0.9"/><polyline points="213.6,133.7 220.7,131.3 227.8,139.3 234.9,148.6 242.0,147.2 249.1,141.2 256.2,135.5 263.3,138.0 270.4,146.0 277.5,144.3 284.6,136.8 291.7,106.6 298.8,84.7 305.9,74.3 313.0,79.2 320.1,87.3 327.2,93.7 334.3,83.6 341.4,75.3 348.5,62.6 355.6,62.3" fill="none" stroke="#a8a8a8" stroke-width="0.6" stroke-dasharray="1.2,1.2" opacity="0.9"/><polyline points="213.6,135.0 220.7,139.3 227.8,149.0 234.9,158.1 242.0,157.5 249.1,149.4 256.2,145.4 263.3,141.5 270.4,144.8 277.5,140.2 284.6,130.7 291.7,99.9 298.8,85.8 305.9,77.5 313.0,84.2 320.1,95.4 327.2,101.9 334.3,91.3 341.4,85.5 348.5,70.5 355.6,65.9" fill="none" stroke="#a8a8a8" stroke-width="0.6" stroke-dasharray="1.2,1.2" opacity="0.9"/><polyline points="213.6,129.9 220.7,131.1 227.8,139.2 234.9,147.9 242.0,150.7 249.1,145.1 256.2,138.5 263.3,137.9 270.4,140.2 277.5,132.1 284.6,121.7 291.7,91.8 298.8,75.6 305.9,72.5 313.0,82.3 320.1,95.5 327.2,106.0 334.3,100.8 341.4,89.3 348.5,80.0 355.6,73.5" fill="none" stroke="#a8a8a8" stroke-width="0.6" stroke-dasharray="1.2,1.2" opacity="0.9"/><polyline points="213.6,60.7 220.7,57.0 227.8,80.0 234.9,105.0 242.0,125.0 249.1,130.0 256.2,128.0 263.3,135.0 270.4,140.0 277.5,120.0 284.6,95.0 291.7,75.0 298.8,68.0 305.9,70.0 313.0,80.0 320.1,98.0 327.2,115.0 334.3,110.0 341.4,95.0 348.5,80.0 355.6,70.0" fill="none" stroke="#a8a8a8" stroke-width="0.6" stroke-dasharray="1.2,1.2" opacity="0.9"/><polyline points="213.6,88.0 220.7,84.0 227.8,95.0 234.9,118.0 242.0,135.0 249.1,140.0 256.2,138.0 263.3,142.0 270.4,142.0 277.5,125.0 284.6,100.0 291.7,82.0 298.8,75.0 305.9,77.0 313.0,86.0 320.1,100.0 327.2,114.0 334.3,108.0 341.4,94.0 348.5,82.0 355.6,74.0" fill="none" stroke="#a8a8a8" stroke-width="0.6" stroke-dasharray="1.2,1.2" opacity="0.9"/><polyline points="213.6,92.0 220.7,90.0 227.8,102.0 234.9,125.0 242.0,142.0 249.1,146.0 256.2,140.0 263.3,147.0 270.4,150.0 277.5,128.0 284.6,104.0 291.7,86.0 298.8,78.0 305.9,80.0 313.0,88.0 320.1,104.0 327.2,118.0 334.3,112.0 341.4,98.0 348.5,86.0 355.6,78.0" fill="none" stroke="#a8a8a8" stroke-width="0.6" stroke-dasharray="1.2,1.2" opacity="0.9"/><polyline points="213.6,185.3 220.7,178.7 227.8,180.9 234.9,194.6 242.0,194.6 249.1,180.0 256.2,158.0 263.3,140.0 270.4,125.0 277.5,110.0 284.6,90.0 291.7,75.0 298.8,69.0 305.9,67.0 313.0,72.0 320.1,95.0 327.2,120.0 334.3,135.2 341.4,119.0 348.5,95.0 355.6,80.0" fill="none" stroke="#c6c6c6" stroke-width="1.2" stroke-linejoin="round"/><polyline points="213.6,170.5 220.7,179.3 227.8,206.6 234.9,212.6 242.0,203.4 249.1,189.5 256.2,176.0 263.3,193.5 270.4,216.0 277.5,174.0 284.6,130.0 291.7,83.0 298.8,64.6 305.9,64.6 313.0,72.0 320.1,103.0 327.2,136.3 334.3,122.4 341.4,107.0 348.5,105.4 355.6,104.3" fill="none" stroke="#ffff00" stroke-width="1.2" stroke-linejoin="round"/><polyline points="213.6,111.1 220.7,112.4 227.8,115.2 234.9,117.9 242.0,117.9 249.1,111.4 256.2,104.6 263.3,103.5 270.4,105.0 277.5,105.0 284.6,104.3 291.7,103.0 298.8,101.0 305.9,101.0 313.0,102.0 320.1,105.0 327.2,108.1 334.3,109.2 341.4,110.3 348.5,111.9 355.6,113.5" fill="none" stroke="#ff00ff" stroke-width="1.2" stroke-linejoin="round"/><polyline points="213.6,118.5 220.7,122.0 227.8,130.0 234.9,133.3 242.0,126.7 249.1,119.6 256.2,119.6 263.3,128.0 270.4,132.2 277.5,120.0 284.6,97.0 291.7,90.3 298.8,87.5 305.9,88.1 313.0,91.4 320.1,98.0 327.2,113.0 334.3,110.3 341.4,104.0 348.5,98.0 355.6,93.0" fill="none" stroke="#00ffff" stroke-width="1.2" stroke-linejoin="round"/><polyline points="213.6,109.2 220.7,106.5 227.8,109.2 234.9,119.0 242.0,128.9 249.1,128.9 256.2,125.9 263.3,122.6 270.4,118.0 277.5,109.0 284.6,105.5 291.7,102.0 298.8,100.6 305.9,100.3 313.0,100.8 320.1,105.9 327.2,113.5 334.3,112.4 341.4,107.0 348.5,101.1 355.6,97.3" fill="none" stroke="#00cd00" stroke-width="1.2" stroke-linejoin="round"/><polyline points="213.6,126.9 220.7,125.4 227.8,128.9 234.9,139.5 242.0,147.5 249.1,154.1 256.2,159.5 263.3,151.9 270.4,137.0 277.5,121.5 284.6,106.0 291.7,91.4 298.8,83.2 305.9,81.3 313.0,85.4 320.1,94.1 327.2,98.0 334.3,91.6 341.4,78.0 348.5,67.0 355.6,64.3" fill="none" stroke="#0000ff" stroke-width="1.2" stroke-linejoin="round"/><polyline points="213.6,125.4 220.7,127.2 227.8,137.6 234.9,151.9 242.0,159.0 249.1,159.0 256.2,154.1 263.3,149.2 270.4,144.2 277.5,136.5 284.6,126.7 291.7,105.0 298.8,91.0 305.9,74.2 313.0,79.6 320.1,102.0 327.2,124.8 334.3,129.7 341.4,112.0 348.5,82.0 355.6,61.5" fill="none" stroke="#ff0000" stroke-width="1.2" stroke-linejoin="round"/><polyline points="213.6,141.2 220.7,145.4 227.8,159.5 234.9,165.5 242.0,162.3 249.1,158.4 256.2,154.1 263.3,161.0 270.4,167.7 277.5,146.0 284.6,116.0 291.7,94.6 298.8,85.9 305.9,84.3 313.0,89.2 320.1,103.0 327.2,114.0 334.3,108.5 341.4,98.0 348.5,89.0 355.6,82.3" fill="none" stroke="#2a2a2a" stroke-width="1.2" stroke-linejoin="round"/><polyline points="213.6,132.5 220.7,133.3 227.8,139.8 234.9,149.7 242.0,150.8 249.1,146.5 256.2,142.1 263.3,143.1 270.4,141.0 277.5,127.0 284.6,112.0 291.7,88.0 298.8,80.5 305.9,83.2 313.0,88.1 320.1,100.0 327.2,108.5 334.3,99.5 341.4,90.0 348.5,77.0 355.6,70.3" fill="none" stroke="#2a2a2a" stroke-width="1.2" stroke-linejoin="round"/><rect x="208.1" y="18.7" width="153.1" height="232.7" fill="none" stroke="#8a8a8a" stroke-width="1.2"/><text x="284.5" y="11.3" text-anchor="middle" style="font-family:'Liberation Sans',Arial,sans-serif;font-size:5.35px;font-weight:bold" fill="#1a1a1a" stroke="#1a1a1a" stroke-width="0.18">Bootstrap resamples n= 50</text><line x1="229.4" y1="251.4" x2="229.4" y2="254.3" stroke="#8a8a8a" stroke-width="1"/><text x="229.4" y="261.6" text-anchor="middle" style="font-family:'Liberation Sans',Arial,sans-serif;font-size:4.5px" fill="#1a1a1a" stroke="#1a1a1a" stroke-width="0.05">2000</text><line x1="268.8" y1="251.4" x2="268.8" y2="254.3" stroke="#8a8a8a" stroke-width="1"/><text x="268.8" y="261.6" text-anchor="middle" style="font-family:'Liberation Sans',Arial,sans-serif;font-size:4.5px" fill="#1a1a1a" stroke="#1a1a1a" stroke-width="0.05">2005</text><line x1="308.2" y1="251.4" x2="308.2" y2="254.3" stroke="#8a8a8a" stroke-width="1"/><text x="308.2" y="261.6" text-anchor="middle" style="font-family:'Liberation Sans',Arial,sans-serif;font-size:4.5px" fill="#1a1a1a" stroke="#1a1a1a" stroke-width="0.05">2010</text><line x1="347.9" y1="251.4" x2="347.9" y2="254.3" stroke="#8a8a8a" stroke-width="1"/><text x="347.9" y="261.6" text-anchor="middle" style="font-family:'Liberation Sans',Arial,sans-serif;font-size:4.5px" fill="#1a1a1a" stroke="#1a1a1a" stroke-width="0.05">2015</text><text x="284.2" y="272.2" text-anchor="middle" style="font-family:'Liberation Sans',Arial,sans-serif;font-size:4.5px" fill="#1a1a1a" stroke="#1a1a1a" stroke-width="0.05">t</text><line x1="205.3" y1="58.9" x2="208.1" y2="58.9" stroke="#8a8a8a" stroke-width="1"/><text transform="translate(202.1,58.9) rotate(-90)" text-anchor="middle" style="font-family:'Liberation Sans',Arial,sans-serif;font-size:4.5px" fill="#1a1a1a" stroke="#1a1a1a" stroke-width="0.05">2</text><line x1="205.3" y1="104.8" x2="208.1" y2="104.8" stroke="#8a8a8a" stroke-width="1"/><text transform="translate(202.1,104.8) rotate(-90)" text-anchor="middle" style="font-family:'Liberation Sans',Arial,sans-serif;font-size:4.5px" fill="#1a1a1a" stroke="#1a1a1a" stroke-width="0.05">0</text><line x1="205.3" y1="150.7" x2="208.1" y2="150.7" stroke="#8a8a8a" stroke-width="1"/><text transform="translate(202.1,150.7) rotate(-90)" text-anchor="middle" style="font-family:'Liberation Sans',Arial,sans-serif;font-size:4.5px" fill="#1a1a1a" stroke="#1a1a1a" stroke-width="0.05">-2</text><line x1="205.3" y1="196.6" x2="208.1" y2="196.6" stroke="#8a8a8a" stroke-width="1"/><text transform="translate(202.1,196.6) rotate(-90)" text-anchor="middle" style="font-family:'Liberation Sans',Arial,sans-serif;font-size:4.5px" fill="#1a1a1a" stroke="#1a1a1a" stroke-width="0.05">-4</text><line x1="205.3" y1="242.5" x2="208.1" y2="242.5" stroke="#8a8a8a" stroke-width="1"/><text transform="translate(202.1,242.5) rotate(-90)" text-anchor="middle" style="font-family:'Liberation Sans',Arial,sans-serif;font-size:4.5px" fill="#1a1a1a" stroke="#1a1a1a" stroke-width="0.05">-6</text><text transform="translate(191.9,135.2) rotate(-90)" text-anchor="middle" style="font-family:'Liberation Sans',Arial,sans-serif;font-size:4.5px" fill="#1a1a1a" stroke="#1a1a1a" stroke-width="0.05">X(t)</text><line x1="73.7" y1="202.1" x2="94.8" y2="202.1" stroke="#505050" stroke-width="1.6"/><text x="104.9" y="204.8" style="font-family:'Liberation Sans',Arial,sans-serif;font-size:4.5px" fill="#1a1a1a" stroke="#1a1a1a" stroke-width="0.05">Total</text><line x1="73.7" y1="207.6" x2="94.8" y2="207.6" stroke="#ff0000" stroke-width="1.3"/><text x="104.9" y="210.3" style="font-family:'Liberation Sans',Arial,sans-serif;font-size:4.5px" fill="#1a1a1a" stroke="#1a1a1a" stroke-width="0.05">1</text><line x1="73.7" y1="213.1" x2="94.8" y2="213.1" stroke="#00cd00" stroke-width="1.3"/><text x="104.9" y="215.8" style="font-family:'Liberation Sans',Arial,sans-serif;font-size:4.5px" fill="#1a1a1a" stroke="#1a1a1a" stroke-width="0.05">2</text><line x1="73.7" y1="218.6" x2="94.8" y2="218.6" stroke="#0000ff" stroke-width="1.3"/><text x="104.9" y="221.3" style="font-family:'Liberation Sans',Arial,sans-serif;font-size:4.5px" fill="#1a1a1a" stroke="#1a1a1a" stroke-width="0.05">3</text><line x1="73.7" y1="224.1" x2="94.8" y2="224.1" stroke="#00ffff" stroke-width="1.3"/><text x="104.9" y="226.8" style="font-family:'Liberation Sans',Arial,sans-serif;font-size:4.5px" fill="#1a1a1a" stroke="#1a1a1a" stroke-width="0.05">4</text><line x1="73.7" y1="229.6" x2="94.8" y2="229.6" stroke="#ff00ff" stroke-width="1.3"/><text x="104.9" y="232.3" style="font-family:'Liberation Sans',Arial,sans-serif;font-size:4.5px" fill="#1a1a1a" stroke="#1a1a1a" stroke-width="0.05">5</text><line x1="73.7" y1="235.1" x2="94.8" y2="235.1" stroke="#ffff00" stroke-width="1.3"/><text x="104.9" y="237.8" style="font-family:'Liberation Sans',Arial,sans-serif;font-size:4.5px" fill="#1a1a1a" stroke="#1a1a1a" stroke-width="0.05">6</text><line x1="73.7" y1="240.6" x2="94.8" y2="240.6" stroke="#bebebe" stroke-width="0.8"/><text x="104.9" y="243.3" style="font-family:'Liberation Sans',Arial,sans-serif;font-size:4.5px" fill="#1a1a1a" stroke="#1a1a1a" stroke-width="0.05">7</text><line x1="73.7" y1="246.1" x2="94.8" y2="246.1" stroke="#606060" stroke-width="1.7"/><text x="104.9" y="248.8" style="font-family:'Liberation Sans',Arial,sans-serif;font-size:4.5px" fill="#1a1a1a" stroke="#1a1a1a" stroke-width="0.05">8</text><line x1="242.4" y1="196.6" x2="263.5" y2="196.6" stroke="#303030" stroke-width="1.6"/><text x="273.7" y="199.3" style="font-family:'Liberation Sans',Arial,sans-serif;font-size:4.5px" fill="#1a1a1a" stroke="#1a1a1a" stroke-width="0.05">Total</text><line x1="242.4" y1="202.1" x2="263.5" y2="202.1" stroke="#ff5050" stroke-width="1.3"/><text x="273.7" y="204.8" style="font-family:'Liberation Sans',Arial,sans-serif;font-size:4.5px" fill="#1a1a1a" stroke="#1a1a1a" stroke-width="0.05">1</text><line x1="242.4" y1="207.6" x2="263.5" y2="207.6" stroke="#33cc33" stroke-width="1.3"/><text x="273.7" y="210.3" style="font-family:'Liberation Sans',Arial,sans-serif;font-size:4.5px" fill="#1a1a1a" stroke="#1a1a1a" stroke-width="0.05">2</text><line x1="242.4" y1="213.1" x2="263.5" y2="213.1" stroke="#4040ff" stroke-width="1.3"/><text x="273.7" y="215.8" style="font-family:'Liberation Sans',Arial,sans-serif;font-size:4.5px" fill="#1a1a1a" stroke="#1a1a1a" stroke-width="0.05">3</text><line x1="242.4" y1="218.6" x2="263.5" y2="218.6" stroke="#33ffff" stroke-width="1.3"/><text x="273.7" y="221.3" style="font-family:'Liberation Sans',Arial,sans-serif;font-size:4.5px" fill="#1a1a1a" stroke="#1a1a1a" stroke-width="0.05">4</text><line x1="242.4" y1="224.1" x2="263.5" y2="224.1" stroke="#ff33ff" stroke-width="1.3"/><text x="273.7" y="226.8" style="font-family:'Liberation Sans',Arial,sans-serif;font-size:4.5px" fill="#1a1a1a" stroke="#1a1a1a" stroke-width="0.05">5</text><line x1="242.4" y1="229.7" x2="263.5" y2="229.7" stroke="#ffff33" stroke-width="1.3"/><text x="273.7" y="232.4" style="font-family:'Liberation Sans',Arial,sans-serif;font-size:4.5px" fill="#1a1a1a" stroke="#1a1a1a" stroke-width="0.05">6</text><line x1="242.4" y1="235.2" x2="263.5" y2="235.2" stroke="#c0c0c0" stroke-width="1.0"/><text x="273.7" y="237.9" style="font-family:'Liberation Sans',Arial,sans-serif;font-size:4.5px" fill="#1a1a1a" stroke="#1a1a1a" stroke-width="0.05">7</text><line x1="242.4" y1="240.7" x2="263.5" y2="240.7" stroke="#202020" stroke-width="1.3"/><text x="273.7" y="243.4" style="font-family:'Liberation Sans',Arial,sans-serif;font-size:4.5px" fill="#1a1a1a" stroke="#1a1a1a" stroke-width="0.05">8</text><line x1="242.4" y1="246.2" x2="263.5" y2="246.2" stroke="#d0d0d0" stroke-width="1.2"/><text x="273.7" y="248.9" style="font-family:'Liberation Sans',Arial,sans-serif;font-size:4.5px" fill="#1a1a1a" stroke="#1a1a1a" stroke-width="0.05">Resamples</text><rect x="393.3" y="18.7" width="153.1" height="232.7" fill="none" stroke="#8a8a8a" stroke-width="1.2"/><text x="469.3" y="7.7" text-anchor="middle" style="font-family:'Liberation Sans',Arial,sans-serif;font-size:5.35px;font-weight:bold" fill="#1a1a1a" stroke="#1a1a1a" stroke-width="0.18">Density plot for bootstrap resamples</text><text x="470.5" y="14.3" text-anchor="middle" style="font-family:'Liberation Sans',Arial,sans-serif;font-size:5.45px;font-weight:bold" fill="#1a1a1a" stroke="#1a1a1a" stroke-width="0.18">N levels: 8 , Stat: 149.32 , P.value= 0</text><line x1="398.9" y1="251.5" x2="398.9" y2="254.5" stroke="#8a8a8a" stroke-width="1"/><text x="398.9" y="262.2" text-anchor="middle" style="font-family:'Liberation Sans',Arial,sans-serif;font-size:4.5px" fill="#1a1a1a" stroke="#1a1a1a" stroke-width="0.05">0</text><line x1="446.6" y1="251.5" x2="446.6" y2="254.5" stroke="#8a8a8a" stroke-width="1"/><text x="446.6" y="262.2" text-anchor="middle" style="font-family:'Liberation Sans',Arial,sans-serif;font-size:4.5px" fill="#1a1a1a" stroke="#1a1a1a" stroke-width="0.05">50</text><line x1="494.2" y1="251.5" x2="494.2" y2="254.5" stroke="#8a8a8a" stroke-width="1"/><text x="494.2" y="262.2" text-anchor="middle" style="font-family:'Liberation Sans',Arial,sans-serif;font-size:4.5px" fill="#1a1a1a" stroke="#1a1a1a" stroke-width="0.05">100</text><line x1="541.9" y1="251.5" x2="541.9" y2="254.5" stroke="#8a8a8a" stroke-width="1"/><text x="541.9" y="262.2" text-anchor="middle" style="font-family:'Liberation Sans',Arial,sans-serif;font-size:4.5px" fill="#1a1a1a" stroke="#1a1a1a" stroke-width="0.05">150</text><line x1="390.5" y1="243.2" x2="393.5" y2="243.2" stroke="#8a8a8a" stroke-width="1"/><text transform="translate(387.4,243.2) rotate(-90)" text-anchor="middle" style="font-family:'Liberation Sans',Arial,sans-serif;font-size:4.5px" fill="#1a1a1a" stroke="#1a1a1a" stroke-width="0.05">0.000</text><line x1="390.5" y1="204.3" x2="393.5" y2="204.3" stroke="#8a8a8a" stroke-width="1"/><text transform="translate(387.4,204.3) rotate(-90)" text-anchor="middle" style="font-family:'Liberation Sans',Arial,sans-serif;font-size:4.5px" fill="#1a1a1a" stroke="#1a1a1a" stroke-width="0.05">0.005</text><line x1="390.5" y1="165.4" x2="393.5" y2="165.4" stroke="#8a8a8a" stroke-width="1"/><text transform="translate(387.4,165.4) rotate(-90)" text-anchor="middle" style="font-family:'Liberation Sans',Arial,sans-serif;font-size:4.5px" fill="#1a1a1a" stroke="#1a1a1a" stroke-width="0.05">0.010</text><line x1="390.5" y1="126.4" x2="393.5" y2="126.4" stroke="#8a8a8a" stroke-width="1"/><text transform="translate(387.4,126.4) rotate(-90)" text-anchor="middle" style="font-family:'Liberation Sans',Arial,sans-serif;font-size:4.5px" fill="#1a1a1a" stroke="#1a1a1a" stroke-width="0.05">0.015</text><line x1="390.5" y1="87.5" x2="393.5" y2="87.5" stroke="#8a8a8a" stroke-width="1"/><text transform="translate(387.4,87.5) rotate(-90)" text-anchor="middle" style="font-family:'Liberation Sans',Arial,sans-serif;font-size:4.5px" fill="#1a1a1a" stroke="#1a1a1a" stroke-width="0.05">0.020</text><line x1="390.5" y1="48.6" x2="393.5" y2="48.6" stroke="#8a8a8a" stroke-width="1"/><text transform="translate(387.4,48.6) rotate(-90)" text-anchor="middle" style="font-family:'Liberation Sans',Arial,sans-serif;font-size:4.5px" fill="#1a1a1a" stroke="#1a1a1a" stroke-width="0.05">0.025</text><text transform="translate(377.9,136.2) rotate(-90)" text-anchor="middle" style="font-family:'Liberation Sans',Arial,sans-serif;font-size:4.5px" fill="#1a1a1a" stroke="#1a1a1a" stroke-width="0.05">Density</text><text x="469.8" y="272.3" text-anchor="middle" style="font-family:'Liberation Sans',Arial,sans-serif;font-size:4.5px;white-space:pre" fill="#1a1a1a" stroke="#1a1a1a" stroke-width="0.05" xml:space="preserve">N = 50   Bandwidth = 5.387</text><line x1="393.5" y1="243.2" x2="546.5" y2="243.2" stroke="#bdbdbd" stroke-width="0.8"/><path d="M418.20,243.20 C418.50,243.10 419.40,243.02 420.00,242.60 C420.60,242.18 421.30,241.47 421.80,240.70 C422.30,239.93 422.60,238.95 423.00,238.00 C423.40,237.05 423.70,236.50 424.20,235.00 C424.70,233.50 425.33,231.50 426.00,229.00 C426.67,226.50 427.53,223.08 428.20,220.00 C428.87,216.92 429.40,214.00 430.00,210.50 C430.60,207.00 431.17,204.08 431.80,199.00 C432.43,193.92 433.13,186.50 433.80,180.00 C434.47,173.50 435.17,166.67 435.80,160.00 C436.43,153.33 437.02,146.67 437.60,140.00 C438.18,133.33 438.77,126.50 439.30,120.00 C439.83,113.50 440.33,106.67 440.80,101.00 C441.27,95.33 441.73,90.50 442.10,86.00 C442.47,81.50 442.70,77.83 443.00,74.00 C443.30,70.17 443.58,66.50 443.90,63.00 C444.22,59.50 444.53,56.17 444.90,53.00 C445.27,49.83 445.68,46.75 446.10,44.00 C446.52,41.25 446.97,38.67 447.40,36.50 C447.83,34.33 448.30,32.37 448.70,31.00 C449.10,29.63 449.47,28.88 449.80,28.30 C450.13,27.72 450.38,27.50 450.70,27.50 C451.02,27.50 451.35,27.72 451.70,28.30 C452.05,28.88 452.42,29.63 452.80,31.00 C453.18,32.37 453.58,34.17 454.00,36.50 C454.42,38.83 454.90,42.25 455.30,45.00 C455.70,47.75 456.05,50.50 456.40,53.00 C456.75,55.50 457.05,57.67 457.40,60.00 C457.75,62.33 458.13,64.75 458.50,67.00 C458.87,69.25 459.25,71.33 459.60,73.50 C459.95,75.67 460.25,78.00 460.60,80.00 C460.95,82.00 461.30,83.83 461.70,85.50 C462.10,87.17 462.53,88.70 463.00,90.00 C463.47,91.30 464.00,92.38 464.50,93.30 C465.00,94.22 465.53,94.80 466.00,95.50 C466.47,96.20 466.88,96.75 467.30,97.50 C467.72,98.25 468.12,99.00 468.50,100.00 C468.88,101.00 469.25,102.25 469.60,103.50 C469.95,104.75 470.28,106.05 470.60,107.50 C470.92,108.95 471.17,110.12 471.50,112.20 C471.83,114.28 472.22,117.03 472.60,120.00 C472.98,122.97 473.40,126.67 473.80,130.00 C474.20,133.33 474.60,136.67 475.00,140.00 C475.40,143.33 475.82,146.67 476.20,150.00 C476.58,153.33 476.97,156.67 477.30,160.00 C477.63,163.33 477.88,166.67 478.20,170.00 C478.52,173.33 478.87,176.67 479.20,180.00 C479.53,183.33 479.85,186.83 480.20,190.00 C480.55,193.17 480.87,196.17 481.30,199.00 C481.73,201.83 482.28,204.50 482.80,207.00 C483.32,209.50 483.83,211.67 484.40,214.00 C484.97,216.33 485.52,218.50 486.20,221.00 C486.88,223.50 487.62,226.53 488.50,229.00 C489.38,231.47 490.58,234.03 491.50,235.80 C492.42,237.57 493.17,238.58 494.00,239.60 C494.83,240.62 495.67,241.33 496.50,241.90 C497.33,242.47 498.33,242.78 499.00,243.00 C499.67,243.22 500.25,243.17 500.50,243.20" fill="none" stroke="#3a3a3a" stroke-width="0.75"/><line x1="433.5" y1="247.2" x2="433.5" y2="251.5" stroke="#000" stroke-width="0.85" opacity="0.95"/><line x1="435.6" y1="247.2" x2="435.6" y2="251.5" stroke="#000" stroke-width="0.85" opacity="0.35"/><line x1="437.5" y1="247.2" x2="437.5" y2="251.5" stroke="#000" stroke-width="0.85" opacity="0.35"/><line x1="439.3" y1="247.2" x2="439.3" y2="251.5" stroke="#000" stroke-width="0.85" opacity="0.6"/><line x1="440.1" y1="247.2" x2="440.1" y2="251.5" stroke="#000" stroke-width="0.85" opacity="0.6"/><line x1="440.8" y1="247.2" x2="440.8" y2="251.5" stroke="#000" stroke-width="0.85" opacity="0.6"/><line x1="442.3" y1="247.2" x2="442.3" y2="251.5" stroke="#000" stroke-width="0.85" opacity="0.95"/><line x1="443.0" y1="247.2" x2="443.0" y2="251.5" stroke="#000" stroke-width="0.85" opacity="0.95"/><line x1="444.4" y1="247.2" x2="444.4" y2="251.5" stroke="#000" stroke-width="0.85" opacity="0.35"/><line x1="446.6" y1="247.2" x2="446.6" y2="251.5" stroke="#000" stroke-width="0.85" opacity="0.95"/><line x1="447.4" y1="247.2" x2="447.4" y2="251.5" stroke="#000" stroke-width="0.85" opacity="0.6"/><line x1="450.6" y1="247.2" x2="450.6" y2="251.5" stroke="#000" stroke-width="0.85" opacity="0.95"/><line x1="451.3" y1="247.2" x2="451.3" y2="251.5" stroke="#000" stroke-width="0.85" opacity="0.95"/><line x1="452.0" y1="247.2" x2="452.0" y2="251.5" stroke="#000" stroke-width="0.85" opacity="0.95"/><line x1="453.1" y1="247.2" x2="453.1" y2="251.5" stroke="#000" stroke-width="0.85" opacity="0.6"/><line x1="456.5" y1="247.2" x2="456.5" y2="251.5" stroke="#000" stroke-width="0.85" opacity="0.35"/><line x1="457.3" y1="247.2" x2="457.3" y2="251.5" stroke="#000" stroke-width="0.85" opacity="0.35"/><line x1="458.2" y1="247.2" x2="458.2" y2="251.5" stroke="#000" stroke-width="0.85" opacity="0.35"/><line x1="459.5" y1="247.2" x2="459.5" y2="251.5" stroke="#000" stroke-width="0.85" opacity="0.6"/><line x1="460.4" y1="247.2" x2="460.4" y2="251.5" stroke="#000" stroke-width="0.85" opacity="0.6"/><line x1="461.3" y1="247.2" x2="461.3" y2="251.5" stroke="#000" stroke-width="0.85" opacity="0.6"/><line x1="462.5" y1="247.2" x2="462.5" y2="251.5" stroke="#000" stroke-width="0.85" opacity="0.6"/><line x1="463.8" y1="247.2" x2="463.8" y2="251.5" stroke="#000" stroke-width="0.85" opacity="0.95"/><line x1="464.4" y1="247.2" x2="464.4" y2="251.5" stroke="#000" stroke-width="0.85" opacity="0.95"/><line x1="465.9" y1="247.2" x2="465.9" y2="251.5" stroke="#000" stroke-width="0.85" opacity="0.95"/><line x1="466.8" y1="247.2" x2="466.8" y2="251.5" stroke="#000" stroke-width="0.85" opacity="0.95"/><line x1="467.5" y1="247.2" x2="467.5" y2="251.5" stroke="#000" stroke-width="0.85" opacity="0.6"/><line x1="468.5" y1="247.2" x2="468.5" y2="251.5" stroke="#000" stroke-width="0.85" opacity="0.6"/><line x1="469.3" y1="247.2" x2="469.3" y2="251.5" stroke="#000" stroke-width="0.85" opacity="0.6"/><line x1="470.2" y1="247.2" x2="470.2" y2="251.5" stroke="#000" stroke-width="0.85" opacity="0.6"/><line x1="470.9" y1="247.2" x2="470.9" y2="251.5" stroke="#000" stroke-width="0.85" opacity="0.95"/><line x1="473.5" y1="247.2" x2="473.5" y2="251.5" stroke="#000" stroke-width="0.85" opacity="0.95"/><line x1="474.2" y1="247.2" x2="474.2" y2="251.5" stroke="#000" stroke-width="0.85" opacity="0.95"/><line x1="474.9" y1="247.2" x2="474.9" y2="251.5" stroke="#000" stroke-width="0.85" opacity="0.95"/><line x1="477.5" y1="247.2" x2="477.5" y2="251.5" stroke="#000" stroke-width="0.85" opacity="0.6"/><line x1="485.5" y1="247.2" x2="485.5" y2="251.5" stroke="#000" stroke-width="0.85" opacity="0.6"/><line x1="540.8" y1="18.5" x2="540.8" y2="251.5" stroke="#ff3333" stroke-width="1.25" stroke-dasharray="3,3.5" stroke-dashoffset="-0.9"/></svg></body></html>
